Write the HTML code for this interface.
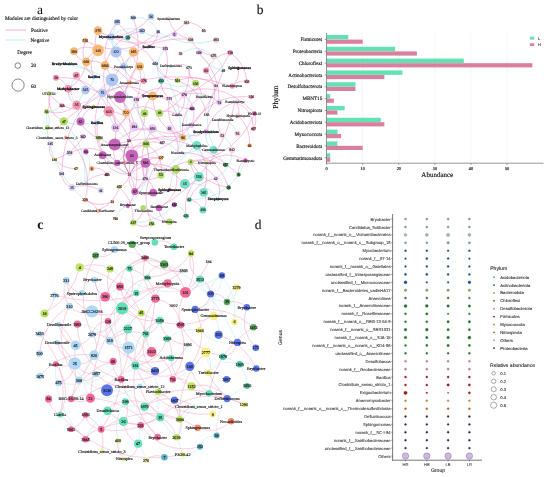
<!DOCTYPE html><html><head><meta charset="utf-8"><style>
html,body{margin:0;padding:0;background:#fff;width:550px;height:477px;overflow:hidden}
svg{display:block}
.tb text{stroke:#222;stroke-width:0.16px}
.td text{stroke:#444;stroke-width:0.1px}
text.n{stroke:#1a1a1a;stroke-width:0.16px}
text.l{stroke:#111;stroke-width:0.12px}
text.lg{stroke:#111;stroke-width:0.14px}
text.l[font-weight=bold]{stroke:#000;stroke-width:0.22px}
</style></head><body>
<svg width="550" height="477" viewBox="0 0 550 477" text-rendering="geometricPrecision">
<rect width="550" height="477" fill="#fff"/>
<g font-family="'Liberation Serif','Times New Roman',serif" stroke-linejoin="round">
<path d="M158.1 31.9Q150.99 15.44 133.2 17.7M117.2 22.1Q104.46 46.47 123.5 66.3M142 31.1Q124.71 23.99 111.1 36.8M142 31.1Q133.21 30.66 127.8 37.6M142 31.1Q157.39 41.22 174.5 34.4M158.1 31.9Q185.16 49.36 216 40.1M111.1 36.8Q117.36 51.68 133.5 52M116 52Q111.66 37.47 98.1 30.7M133.5 52Q119.43 65.63 129.2 82.6M165.3 48.5Q151.53 63.21 161 81M213.6 56.1Q198.11 42.03 180.6 53.5M177.7 152.3Q189.07 102.12 155.3 63.3M143.8 81Q146.22 72.45 139.8 66.3M94 77Q83.14 61.66 64.5 64M144.5 113.2Q114.88 71.73 64.5 64M76.3 75.2Q64.93 90.26 76.7 105M85.5 90Q93.06 85.66 94 77M112 79.8Q110.76 90.84 120 97M76.7 105Q99.78 100 112 79.8M112 79.8Q96.99 116.72 128.9 140.6M146.1 144Q142.67 104.67 112 79.8M85.5 90Q73.38 104.3 80.6 121.6M46.6 111.6Q55.68 112.03 61.9 105.4M63.8 121.4Q89.61 130.89 108.8 111.2M161 81Q177.75 91.18 195.7 83.3M195.7 83.3Q171.7 127.31 207 162.9M198.8 52.4Q206.84 67.17 223.3 70.6M223.3 70.6Q221.79 61.11 213.6 56.1M216 85.5Q194.81 128.3 225.5 164.9M237.4 133.6Q232.84 120.2 218.7 119.4M152.5 128.7Q178.25 149.18 206 131.5M206 131.5Q203.81 143.14 213.6 149.8M206 131.5Q185.13 132.76 177.7 152.3M232 150.1Q230.27 140.77 222.3 135.6M196.8 145.4Q172.69 160.9 169.6 189.4M213.6 149.8Q179.7 146.84 160.9 175.2M215.7 178.5Q232.34 169.17 232 150.1M189.3 199.7Q230.91 199.46 245.5 160.5M198.8 176.8Q189.47 175.69 184.9 183.9M218 199.2Q206.47 180.68 184.9 183.9M186.2 216.2Q183.73 206.85 174.3 204.7M47.5 127.8Q51.59 119.45 46.6 111.6M46.6 111.6Q44.37 165.19 85 200.2M84.6 183.4Q87.86 147.82 63.8 121.4M131.9 155.8Q126.26 145.54 114.6 144.5M127.8 206Q156.87 180.88 146.1 144M177.7 152.3Q172.54 143.34 162.2 143M84.6 183.4Q94.97 168 85.9 151.8M117.2 162.9Q111.53 155.96 102.6 155.2M117.2 162.9Q120.31 171.9 129.5 174.4M153.2 192.7Q162.39 195.99 169.6 189.4M127.8 206Q117.98 208.66 115.4 218.5M133.3 222.6Q157.8 222.81 174.3 204.7" fill="none" stroke="#9fe2ec" stroke-width="0.6" stroke-opacity="0.9"/>
<path d="M120 97Q148.26 60.96 133.2 17.7M111.1 36.8Q135.57 35.44 151 16.4M117.2 22.1Q135.17 46.38 165.3 48.5M117.2 22.1Q95.5 49.23 112 79.8M142 31.1Q112.78 36.77 105 65.5M148.6 47Q157.04 41.77 158.1 31.9M85.3 40.5Q124.71 61.7 158.1 31.9M155.3 63.3Q139.71 39.19 111.1 36.8M123.5 66.3Q124.59 56.61 116 52M133.5 52Q132.26 61.09 139.8 66.3M168.7 18.3Q172.59 36.16 190.6 39.3M98.1 30.7Q145.3 59.42 186.5 22.6M203.7 30.8Q197.11 22.48 186.5 22.6M152.6 95.8Q173.57 76.07 165.3 48.5M155.3 63.3Q160.32 79.75 177.5 80.5M189 67.2Q180.22 61.89 170.9 66.2M139.8 66.3Q130.31 71.72 129.2 82.6M115.5 127.6Q145.17 103.9 139.8 66.3M105 65.5Q96.57 58.99 86.3 61.8M129.2 82.6Q120.8 68.82 105 65.5M105 65.5Q97.77 97.02 126 112.8M123.5 66.3Q128.18 81.2 143.8 81M98.1 30.7Q92.4 40.55 98.1 50.4M85.3 40.5Q77.46 61.66 94 77M98.1 50.4Q85.8 43.32 74 51.2M74 51.2Q77.61 59.45 86.3 61.8M98.1 50.4Q89.28 53.08 86.3 61.8M98.1 50.4Q86.3 62.2 94 77M68.2 88.8Q83.61 79.56 86.3 61.8M76.3 75.2Q85.52 89.81 102.5 93M68.2 88.8Q64.76 80.32 56 77.7M108.8 111.2Q94.99 74.61 56 77.7M102.5 93Q112.16 89.94 112 79.8M112 79.8Q62.92 114.12 61.7 174M190.6 39.3Q138.55 34.81 112 79.8M129.2 82.6Q136.42 97.14 152.6 95.8M129.2 82.6Q121.13 97.01 126 112.8M68.2 88.8Q67.25 99.63 76.7 105M152.6 95.8Q128.41 78.98 102.5 93M134.2 126.7Q130.98 97.97 102.5 93M114.6 144.5Q121.04 115.81 102.5 93M102.5 93Q87.31 124.12 102.6 155.2M128.9 140.6Q134.37 116.78 120 97M169.3 98.5Q152.53 91.65 136.3 99.7M184 94.7Q158.25 79.1 136.3 99.7M136.3 99.7Q138.59 127.72 162.2 143M152.6 95.8Q144.6 102.66 144.5 113.2M177 114.8Q171.6 96.57 152.6 95.8M152.6 95.8Q154.25 126.56 183 137.6M49 93.6Q66.78 116.04 93.7 106.3M46.6 111.6Q51.66 103.11 49 93.6M49 93.6Q46.03 113.02 63.8 121.4M46.6 111.6Q63.37 116.15 76.7 105M93.7 106.3Q83.57 110.88 80.6 121.6M115.5 127.6Q115.88 117.88 108.8 111.2M134.2 126.7Q125.74 111.99 108.8 111.2M134.9 191.6Q144.64 144 108.8 111.2M159.5 113Q142.83 100.31 126 112.8M115.5 127.6Q125.97 123.9 126 112.8M128.9 140.6Q146.61 132.54 144.5 113.2M159.5 113Q191.61 101.28 189 67.2M177 114.8Q168.82 108.38 159.5 113M161 81Q160.97 91.73 169.3 98.5M216 85.5Q198.1 72.63 177.5 80.5M206.6 114.6Q201.86 89.18 177.5 80.5M189 67.2Q188.43 76.88 195.7 83.3M201.6 96.3Q201.62 88.45 195.7 83.3M206.6 114.6Q223.2 92.41 206.1 70.6M230.2 52.7Q213.08 54.83 206.1 70.6M117.2 162.9Q198.18 148.86 223.3 70.6M232.2 86.1Q240.52 78.43 238 67.4M246.9 81.5Q238.36 79.98 232.2 86.1M232.2 86.1Q137.95 55.79 63.8 121.4M246.9 81.5Q245.11 63.29 230.2 52.7M251.3 97.1Q212.77 92.71 191.6 125.2M169.3 98.5Q177.85 109.85 192 108.5M254.6 113.5Q217.72 73.19 169.3 98.5M169.3 98.5Q163.74 122.4 183 137.6M219.3 102.3Q203.64 89.28 184 94.7M177 114.8Q186.64 106.89 184 94.7M191.6 125.2Q199.31 107.08 184 94.7M184 94.7Q216.12 83.63 230.2 52.7M201.6 96.3Q178.92 110.92 183 137.6M219.3 102.3Q220 72.85 198.8 52.4M238.2 115.6Q240.83 107.76 234.9 102M253.4 129Q253.7 108.96 234.9 102M234.9 102Q212.92 109.38 206 131.5M158.9 207.9Q221.02 172.26 234.9 102M218.7 119.4Q216.68 128.35 222.3 135.6M249.6 145.4Q250.79 127.86 238.2 115.6M253.4 129Q257.69 121.54 254.6 113.5M190.6 162.1Q236.45 156.04 254.6 113.5M152.5 128.7Q173.21 139.96 191.6 125.2M134.2 126.7Q142.88 131.97 152.5 128.7M152.5 128.7Q129.35 126.54 114.6 144.5M152.5 128.7Q135.75 151.8 145 178.8M169.6 128.4Q186.76 142.17 206 131.5M177.7 152.3Q179.7 138.3 169.6 128.4M203.7 192.4Q212.47 167.11 196.8 145.4M245.5 160.5Q225.4 148.06 207 162.9M245.5 160.5Q236.93 165.11 238.6 174.7M215.7 178.5Q207.05 164.34 190.6 162.1M190.6 162.1Q190.84 171.6 198.8 176.8M190.6 162.1Q203.43 184.04 228.6 187.5M225.5 164.9Q190.18 151.11 160.9 175.2M238.6 174.7Q185.29 123.92 114.6 144.5M215.7 178.5Q196.28 181.35 189.3 199.7M218 199.2Q222.35 188.24 215.7 178.5M198.8 176.8Q181.9 193.11 186.2 216.2M184.9 183.9Q156.68 155.25 117.2 162.9M228.6 187.5Q216.26 150.94 177.7 152.3M202.9 210Q208.68 201.44 203.7 192.4M202.9 210Q198.67 201.45 189.3 199.7M80.6 121.6Q86.29 133.87 99.1 138.2M97 123Q95.09 160.18 129.5 174.4M47.5 127.8Q57.98 130.53 63.8 121.4M54.4 159.3Q73.63 154.04 83.1 136.5M85 200.2Q95.2 162.71 65.8 137.3M99.1 138.2Q121.03 153.8 146.1 144M114.6 144.5Q111.71 154.29 117.2 162.9M129.5 174.4Q132.16 154.41 114.6 144.5M128.9 140.6Q126.28 149.01 131.9 155.8M160.9 175.2Q164.59 154.34 146.1 144M134.9 191.6Q154.68 171.14 146.1 144M162.2 143Q142.09 137.66 131.9 155.8M102.6 155.2Q108.85 174.88 129.5 174.4M117.2 162.9Q126.85 164.12 131.9 155.8M160.9 175.2Q151.83 157.38 131.9 155.8M129.5 174.4Q137.57 165.99 131.9 155.8M117.2 162.9Q97.05 140.1 69.5 153M183 137.6Q142.6 130.73 117.2 162.9M160.9 158Q152 156.67 145.5 162.9M145.5 162.9Q133.84 163.56 129.5 174.4M145.5 162.9Q140.65 170.71 145 178.8M134.9 191.6Q150.93 181.21 145.5 162.9M160.9 158Q138.98 154.28 129.5 174.4M160.9 158Q136.69 188.14 151.6 223.8M175.8 169.5Q151.04 156.72 129.5 174.4M158.9 207.9Q181.38 194.87 175.8 169.5M145 178.8Q153.79 180.72 160.9 175.2M106.9 174.4Q101.35 166.13 91.7 168.6M106.9 174.4Q93.77 173.98 84.6 183.4M129.5 174.4Q135.63 182.29 145 178.8M119.3 187.1Q127.63 183.34 129.5 174.4M129.5 174.4Q127.3 184.54 134.9 191.6M127.8 206Q140.45 190.83 129.5 174.4M153.2 192.7Q153.87 182.93 145 178.8M100.8 190.5Q87.06 182.68 72 187.5M97.7 210.4Q114.25 204.08 119.3 187.1M133.3 222.6Q134.58 201.59 119.3 187.1M134.9 191.6Q143.71 197.73 153.2 192.7M134.9 191.6Q152.74 198.3 169.6 189.4M85 200.2Q98.23 207.73 112.3 201.9M133.3 222.6Q142.67 218.16 143.2 207.8M143.2 207.8Q152.56 221.79 169.4 221.8M158.9 207.9Q158.74 218.94 169.4 221.8M50.3 143.6Q47.14 152.81 54.4 159.3M54.4 159.3Q63.04 168.96 76 168.6M61.7 174Q62.29 184.23 72 187.5M97.7 210.4Q93.7 202.37 85 200.2M133.3 222.6Q142.02 229.82 151.6 223.8M190.6 39.3Q198.11 53.16 213.6 56.1" fill="none" stroke="#f27cc0" stroke-width="0.6" stroke-opacity="0.8"/>
<path d="M128.9 140.6Q118 158 129.5 174.4" fill="none" stroke="#c43a6a" stroke-width="0.7"/><circle cx="133.2" cy="17.7" r="2.46" fill="#b0c7f6"/><circle cx="151" cy="16.4" r="3.21" fill="#b0c7f6"/><circle cx="117.2" cy="22.1" r="3.21" fill="#b0c7f6"/><circle cx="142" cy="31.1" r="3" fill="#b0c7f6"/><circle cx="158.1" cy="31.9" r="2.14" fill="#b0c7f6"/><circle cx="111.1" cy="36.8" r="3.53" fill="#b0c7f6"/><circle cx="127.8" cy="37.6" r="2.68" fill="#3fb99b"/><circle cx="116" cy="52" r="5.56" fill="#b0c7f6"/><circle cx="133.5" cy="52" r="4.71" fill="#f9b872"/><circle cx="148.6" cy="47" r="1.5" fill="#b0c7f6"/><circle cx="174.5" cy="34.4" r="2.46" fill="#d9a6f2"/><circle cx="168.7" cy="18.3" r="2.14" fill="#ead8d4"/><circle cx="186.5" cy="22.6" r="2.68" fill="#ead8d4"/><circle cx="165.3" cy="48.5" r="2.57" fill="#e6b8f4"/><circle cx="180.6" cy="53.5" r="2.25" fill="#f0d6da"/><circle cx="155.3" cy="63.3" r="2.14" fill="#b0c7f6"/><circle cx="170.9" cy="66.2" r="1.93" fill="#c8f0f0"/><circle cx="139.8" cy="66.3" r="4.17" fill="#f9b872"/><circle cx="105" cy="65.5" r="4.39" fill="#f9b872"/><circle cx="123.5" cy="66.3" r="3.21" fill="#b0c7f6"/><circle cx="98.1" cy="30.7" r="4.39" fill="#f9b872"/><circle cx="85.3" cy="40.5" r="2.68" fill="#f9b872"/><circle cx="74" cy="51.2" r="3.85" fill="#f9b872"/><circle cx="98.1" cy="50.4" r="5.78" fill="#f9b872"/><circle cx="86.3" cy="61.8" r="4.39" fill="#f9b872"/><circle cx="64.5" cy="64" r="1.71" fill="#b0c7f6"/><circle cx="76.3" cy="75.2" r="3.53" fill="#f590ae"/><circle cx="56" cy="77.7" r="3" fill="#f590ae"/><circle cx="94" cy="77" r="2.14" fill="#b0c7f6"/><circle cx="112" cy="79.8" r="6.42" fill="#b0c7f6"/><circle cx="129.2" cy="82.6" r="2.14" fill="#f9b872"/><circle cx="143.8" cy="81" r="3" fill="#f590ae"/><circle cx="68.2" cy="88.8" r="3.85" fill="#f590ae"/><circle cx="85.5" cy="90" r="4.39" fill="#b0c7f6"/><circle cx="102.5" cy="93" r="4.17" fill="#b0c7f6"/><circle cx="120" cy="97" r="5.99" fill="#c564b9"/><circle cx="136.3" cy="99.7" r="3.1" fill="#ebc4f5"/><circle cx="152.6" cy="95.8" r="4.39" fill="#f9b872"/><circle cx="49" cy="93.6" r="2.25" fill="#b1dc69"/><circle cx="61.9" cy="105.4" r="2.25" fill="#f590ae"/><circle cx="76.7" cy="105" r="4.39" fill="#f590ae"/><circle cx="93.7" cy="106.3" r="1.71" fill="#b1dc69"/><circle cx="108.8" cy="111.2" r="5.24" fill="#f590ae"/><circle cx="126" cy="112.8" r="3.85" fill="#f9b872"/><circle cx="144.5" cy="113.2" r="3.85" fill="#b1dc69"/><circle cx="159.5" cy="113" r="3.85" fill="#b1dc69"/><circle cx="161" cy="81" r="2.68" fill="#3fb99b"/><circle cx="177.5" cy="80.5" r="2.68" fill="#b1dc69"/><circle cx="195.7" cy="83.3" r="3.53" fill="#b1dc69"/><circle cx="189" cy="67.2" r="1.93" fill="#c8f0f0"/><circle cx="206.1" cy="70.6" r="3.1" fill="#f590ae"/><circle cx="223.3" cy="70.6" r="1.93" fill="#a8e8e0"/><circle cx="238" cy="67.4" r="1.5" fill="#f590ae"/><circle cx="216" cy="85.5" r="2.14" fill="#f8d4dc"/><circle cx="232.2" cy="86.1" r="2.68" fill="#f590ae"/><circle cx="246.9" cy="81.5" r="2.14" fill="#f590ae"/><circle cx="251.3" cy="97.1" r="2.14" fill="#f590ae"/><circle cx="169.3" cy="98.5" r="1.93" fill="#ebc4f5"/><circle cx="184" cy="94.7" r="3.1" fill="#ebc4f5"/><circle cx="201.6" cy="96.3" r="2.35" fill="#c8f0f0"/><circle cx="219.3" cy="102.3" r="3.1" fill="#ebc4f5"/><circle cx="234.9" cy="102" r="1.6" fill="#ebc4f5"/><circle cx="192" cy="108.5" r="2.14" fill="#b46ad0"/><circle cx="177" cy="114.8" r="2.14" fill="#ebc4f5"/><circle cx="206.6" cy="114.6" r="1.93" fill="#ead8d4"/><circle cx="218.7" cy="119.4" r="0.86" fill="#f8d4dc"/><circle cx="238.2" cy="115.6" r="2.68" fill="#f8d4dc"/><circle cx="254.6" cy="113.5" r="2.14" fill="#d24d9a"/><circle cx="253.4" cy="129" r="2.14" fill="#f590ae"/><circle cx="152.5" cy="128.7" r="4.39" fill="#ebc4f5"/><circle cx="169.6" cy="128.4" r="3.1" fill="#ebc4f5"/><circle cx="191.6" cy="125.2" r="2.68" fill="#ebc4f5"/><circle cx="206" cy="131.5" r="2.68" fill="#ebc4f5"/><circle cx="222.3" cy="135.6" r="3.1" fill="#f8d4dc"/><circle cx="237.4" cy="133.6" r="3.1" fill="#f8d4dc"/><circle cx="249.6" cy="145.4" r="2.14" fill="#f9b872"/><circle cx="196.8" cy="145.4" r="4.39" fill="#76ddc5"/><circle cx="213.6" cy="149.8" r="3.85" fill="#76ddc5"/><circle cx="232" cy="150.1" r="3.1" fill="#f8d4dc"/><circle cx="245.5" cy="160.5" r="2.14" fill="#d24d9a"/><circle cx="190.6" cy="162.1" r="3.1" fill="#b1dc69"/><circle cx="207" cy="162.9" r="1.6" fill="#b1dc69"/><circle cx="225.5" cy="164.9" r="2.25" fill="#3f9050"/><circle cx="238.6" cy="174.7" r="2.14" fill="#3f9050"/><circle cx="215.7" cy="178.5" r="2.14" fill="#ebc4f5"/><circle cx="198.8" cy="176.8" r="4.92" fill="#76ddc5"/><circle cx="184.9" cy="183.9" r="4.92" fill="#76ddc5"/><circle cx="228.6" cy="187.5" r="2.25" fill="#3f9050"/><circle cx="203.7" cy="192.4" r="4.39" fill="#76ddc5"/><circle cx="189.3" cy="199.7" r="2.46" fill="#5cc9ad"/><circle cx="218" cy="199.2" r="1.6" fill="#76ddc5"/><circle cx="202.9" cy="210" r="3.53" fill="#76ddc5"/><circle cx="186.2" cy="216.2" r="2.46" fill="#5cc9ad"/><circle cx="80.6" cy="121.6" r="4.07" fill="#c564b9"/><circle cx="97" cy="123" r="2.14" fill="#b0c7f6"/><circle cx="115.5" cy="127.6" r="4.39" fill="#ebc4f5"/><circle cx="134.2" cy="126.7" r="4.39" fill="#ebc4f5"/><circle cx="46.6" cy="111.6" r="2.68" fill="#b1dc69"/><circle cx="63.8" cy="121.4" r="4.17" fill="#b1dc69"/><circle cx="47.5" cy="127.8" r="2.46" fill="#b1dc69"/><circle cx="83.1" cy="136.5" r="2.57" fill="#dcaee8"/><circle cx="65.8" cy="137.3" r="1.71" fill="#f5a97a"/><circle cx="99.1" cy="138.2" r="2.46" fill="#b1dc69"/><circle cx="114.6" cy="144.5" r="6.1" fill="#c564b9"/><circle cx="128.9" cy="140.6" r="1.07" fill="#f590ae"/><circle cx="146.1" cy="144" r="3.85" fill="#b1dc69"/><circle cx="162.2" cy="143" r="1.93" fill="#ebc4f5"/><circle cx="85.9" cy="151.8" r="2.68" fill="#c564b9"/><circle cx="102.6" cy="155.2" r="3.85" fill="#c564b9"/><circle cx="131.9" cy="155.8" r="6.42" fill="#c564b9"/><circle cx="117.2" cy="162.9" r="3.21" fill="#c564b9"/><circle cx="145.5" cy="162.9" r="4.92" fill="#c564b9"/><circle cx="160.9" cy="158" r="2.46" fill="#f9b872"/><circle cx="177.7" cy="152.3" r="0.86" fill="#ebc4f5"/><circle cx="175.8" cy="169.5" r="4.39" fill="#b1dc69"/><circle cx="160.9" cy="175.2" r="3.53" fill="#b1dc69"/><circle cx="106.9" cy="174.4" r="1.93" fill="#d0607a"/><circle cx="129.5" cy="174.4" r="1.07" fill="#ebc4f5"/><circle cx="145" cy="178.8" r="2.46" fill="#ebc4f5"/><circle cx="100.8" cy="190.5" r="3.1" fill="#ddd5f8"/><circle cx="119.3" cy="187.1" r="2.14" fill="#b1dc69"/><circle cx="134.9" cy="191.6" r="3.53" fill="#c564b9"/><circle cx="153.2" cy="192.7" r="3.85" fill="#c564b9"/><circle cx="169.6" cy="189.4" r="1.6" fill="#c564b9"/><circle cx="112.3" cy="201.9" r="1.71" fill="#f5a97a"/><circle cx="127.8" cy="206" r="2.14" fill="#c564b9"/><circle cx="143.2" cy="207.8" r="2.78" fill="#b1dc69"/><circle cx="158.9" cy="207.9" r="3.21" fill="#c564b9"/><circle cx="174.3" cy="204.7" r="2.46" fill="#a0409a"/><circle cx="50.3" cy="143.6" r="2.68" fill="#ddd5f8"/><circle cx="69.5" cy="153" r="3.1" fill="#ddd5f8"/><circle cx="54.4" cy="159.3" r="1.71" fill="#e2e46a"/><circle cx="76" cy="168.6" r="1.71" fill="#e2e46a"/><circle cx="91.7" cy="168.6" r="2.68" fill="#f5a97a"/><circle cx="61.7" cy="174" r="2.68" fill="#ddd5f8"/><circle cx="84.6" cy="183.4" r="1.6" fill="#c8f0f0"/><circle cx="72" cy="187.5" r="3.53" fill="#ddd5f8"/><circle cx="85" cy="200.2" r="2.14" fill="#f5a97a"/><circle cx="97.7" cy="210.4" r="1.6" fill="#f5a97a"/><circle cx="115.4" cy="218.5" r="1.6" fill="#f5a97a"/><circle cx="133.3" cy="222.6" r="3.21" fill="#b1dc69"/><circle cx="151.6" cy="223.8" r="2.68" fill="#b1dc69"/><circle cx="169.4" cy="221.8" r="3.21" fill="#b1dc69"/><circle cx="198.8" cy="52.4" r="2.46" fill="#ebc4f5"/><circle cx="190.6" cy="39.3" r="3.1" fill="#ead8d4"/><circle cx="203.7" cy="30.8" r="2.14" fill="#ead8d4"/><circle cx="216" cy="40.1" r="3.1" fill="#ead8d4"/><circle cx="213.6" cy="56.1" r="3.1" fill="#ead8d4"/><circle cx="230.2" cy="52.7" r="2.68" fill="#f590ae"/><circle cx="183" cy="137.6" r="3.21" fill="#f9b872"/>
<text class="n" x="133.2" y="18.99" font-size="3.7" fill="#1a1a1a" text-anchor="middle">368</text><text class="n" x="151" y="17.7" font-size="3.7" fill="#1a1a1a" text-anchor="middle">36</text><text class="n" x="117.2" y="23.4" font-size="3.7" fill="#1a1a1a" text-anchor="middle">205</text><text class="n" x="142" y="32.4" font-size="3.7" fill="#1a1a1a" text-anchor="middle">262</text><text class="n" x="158.1" y="33.2" font-size="3.7" fill="#1a1a1a" text-anchor="middle">16</text><text class="l" x="111.1" y="38.06" font-size="3.6" fill="#111" text-anchor="middle" font-weight="bold">Myxobacterium</text><text class="n" x="127.8" y="38.9" font-size="3.7" fill="#1a1a1a" text-anchor="middle">20</text><text class="n" x="116" y="53.3" font-size="3.7" fill="#1a1a1a" text-anchor="middle">122</text><text class="n" x="133.5" y="53.3" font-size="3.7" fill="#1a1a1a" text-anchor="middle">195</text><text class="l" x="148.6" y="48.26" font-size="3.6" fill="#111" text-anchor="middle" font-weight="bold">Bacillus</text><text class="n" x="174.5" y="35.7" font-size="3.7" fill="#1a1a1a" text-anchor="middle">5</text><text class="l" x="168.7" y="19.56" font-size="3.6" fill="#111" text-anchor="middle">Sporobacterium</text><text class="n" x="186.5" y="23.9" font-size="3.7" fill="#1a1a1a" text-anchor="middle">382</text><text class="n" x="165.3" y="49.8" font-size="3.7" fill="#1a1a1a" text-anchor="middle">273</text><text class="n" x="180.6" y="54.8" font-size="3.7" fill="#1a1a1a" text-anchor="middle">32</text><text class="n" x="155.3" y="64.59" font-size="3.7" fill="#1a1a1a" text-anchor="middle">604</text><text class="l" x="170.9" y="67.46" font-size="3.6" fill="#111" text-anchor="middle">Defluviicoccus</text><text class="n" x="139.8" y="67.59" font-size="3.7" fill="#1a1a1a" text-anchor="middle">631</text><text class="n" x="105" y="66.8" font-size="3.7" fill="#1a1a1a" text-anchor="middle">1066</text><text class="l" x="123.5" y="67.56" font-size="3.6" fill="#111" text-anchor="middle">Pseudolabrys</text><text class="n" x="98.1" y="31.99" font-size="3.7" fill="#1a1a1a" text-anchor="middle">275</text><text class="n" x="85.3" y="41.8" font-size="3.7" fill="#1a1a1a" text-anchor="middle">576</text><text class="n" x="74" y="52.5" font-size="3.7" fill="#1a1a1a" text-anchor="middle">398</text><text class="n" x="98.1" y="51.7" font-size="3.7" fill="#1a1a1a" text-anchor="middle">143</text><text class="n" x="86.3" y="63.09" font-size="3.7" fill="#1a1a1a" text-anchor="middle">668</text><text class="l" x="64.5" y="65.26" font-size="3.6" fill="#111" text-anchor="middle" font-weight="bold">Bradyrhizobium</text><text class="n" x="76.3" y="76.5" font-size="3.7" fill="#1a1a1a" text-anchor="middle">87</text><text class="n" x="56" y="79" font-size="3.7" fill="#1a1a1a" text-anchor="middle">28</text><text class="l" x="94" y="78.26" font-size="3.6" fill="#111" text-anchor="middle" font-weight="bold">Bacillus</text><text class="n" x="112" y="81.09" font-size="3.7" fill="#1a1a1a" text-anchor="middle">73</text><text class="l" x="129.2" y="83.86" font-size="3.6" fill="#111" text-anchor="middle">Anaerolineae</text><text class="n" x="143.8" y="82.3" font-size="3.7" fill="#1a1a1a" text-anchor="middle">276</text><text class="l" x="68.2" y="90.06" font-size="3.6" fill="#111" text-anchor="middle" font-weight="bold">Methylobacter</text><text class="n" x="85.5" y="91.3" font-size="3.7" fill="#1a1a1a" text-anchor="middle">315</text><text class="n" x="102.5" y="94.3" font-size="3.7" fill="#1a1a1a" text-anchor="middle">72</text><text class="l" x="120" y="98.26" font-size="3.6" fill="#111" text-anchor="middle">Hyphomicrobium</text><text class="n" x="136.3" y="101" font-size="3.7" fill="#1a1a1a" text-anchor="middle">178</text><text class="l" x="152.6" y="97.06" font-size="3.6" fill="#111" text-anchor="middle" font-weight="bold">Streptomyces</text><text class="l" x="49" y="94.86" font-size="3.6" fill="#111" text-anchor="middle">UTCFX1</text><text class="n" x="61.9" y="106.7" font-size="3.7" fill="#1a1a1a" text-anchor="middle">368</text><text class="n" x="76.7" y="106.3" font-size="3.7" fill="#1a1a1a" text-anchor="middle">35</text><text class="l" x="93.7" y="107.56" font-size="3.6" fill="#111" text-anchor="middle" font-weight="bold">Sphingomonas</text><text class="n" x="108.8" y="112.5" font-size="3.7" fill="#1a1a1a" text-anchor="middle">613</text><text class="n" x="126" y="114.09" font-size="3.7" fill="#1a1a1a" text-anchor="middle">722</text><text class="n" x="144.5" y="114.5" font-size="3.7" fill="#1a1a1a" text-anchor="middle">48</text><text class="n" x="159.5" y="114.3" font-size="3.7" fill="#1a1a1a" text-anchor="middle">48</text><text class="n" x="161" y="82.3" font-size="3.7" fill="#1a1a1a" text-anchor="middle">433</text><text class="n" x="177.5" y="81.8" font-size="3.7" fill="#1a1a1a" text-anchor="middle">591</text><text class="n" x="195.7" y="84.59" font-size="3.7" fill="#1a1a1a" text-anchor="middle">136</text><text class="n" x="189" y="68.5" font-size="3.7" fill="#1a1a1a" text-anchor="middle">673</text><text class="n" x="206.1" y="71.89" font-size="3.7" fill="#1a1a1a" text-anchor="middle">83</text><text class="n" x="223.3" y="71.89" font-size="3.7" fill="#1a1a1a" text-anchor="middle">49</text><text class="l" x="239.5" y="68.66" font-size="3.6" fill="#111" text-anchor="middle" font-weight="bold">Sphingomonas</text><text class="n" x="216" y="86.8" font-size="3.7" fill="#1a1a1a" text-anchor="middle">84</text><text class="l" x="232.2" y="87.36" font-size="3.6" fill="#111" text-anchor="middle">Planctomyces</text><text class="n" x="246.9" y="82.8" font-size="3.7" fill="#1a1a1a" text-anchor="middle">332</text><text class="n" x="251.3" y="98.39" font-size="3.7" fill="#1a1a1a" text-anchor="middle">226</text><text class="n" x="169.3" y="99.8" font-size="3.7" fill="#1a1a1a" text-anchor="middle">571</text><text class="n" x="184" y="96" font-size="3.7" fill="#1a1a1a" text-anchor="middle">176</text><text class="l" x="204.2" y="97.56" font-size="3.6" fill="#111" text-anchor="middle">Roseiflexus</text><text class="n" x="219.3" y="103.59" font-size="3.7" fill="#1a1a1a" text-anchor="middle">74</text><text class="l" x="234.9" y="103.26" font-size="3.6" fill="#111" text-anchor="middle">Pseudolabrys</text><text class="n" x="192" y="109.8" font-size="3.7" fill="#1a1a1a" text-anchor="middle">486</text><text class="l" x="177" y="116.06" font-size="3.6" fill="#111" text-anchor="middle">Gaiella</text><text class="n" x="206.6" y="115.89" font-size="3.7" fill="#1a1a1a" text-anchor="middle">183</text><text class="l" x="222.6" y="120.66" font-size="3.6" fill="#111" text-anchor="middle">Desulfomonile</text><text class="l" x="238.2" y="116.86" font-size="3.6" fill="#111" text-anchor="middle">Hydrogenispora</text><text class="l" x="254.6" y="114.76" font-size="3.6" fill="#111" text-anchor="middle">P3OB-42</text><text class="n" x="253.4" y="130.29" font-size="3.7" fill="#1a1a1a" text-anchor="middle">467</text><text class="n" x="152.5" y="129.99" font-size="3.7" fill="#1a1a1a" text-anchor="middle">876</text><text class="n" x="169.6" y="129.69" font-size="3.7" fill="#1a1a1a" text-anchor="middle">92</text><text class="l" x="191.6" y="126.46" font-size="3.6" fill="#111" text-anchor="middle">Desulfobacca</text><text class="l" x="206" y="132.76" font-size="3.6" fill="#111" text-anchor="middle" font-weight="bold">Bradyrhizobium</text><text class="n" x="222.3" y="136.89" font-size="3.7" fill="#1a1a1a" text-anchor="middle">53</text><text class="n" x="237.4" y="134.89" font-size="3.7" fill="#1a1a1a" text-anchor="middle">76</text><text class="n" x="249.6" y="146.69" font-size="3.7" fill="#1a1a1a" text-anchor="middle">66</text><text class="l" x="196.8" y="146.66" font-size="3.6" fill="#111" text-anchor="middle">Methylophilus</text><text class="l" x="213.6" y="151.06" font-size="3.6" fill="#111" text-anchor="middle">Gemmatimonas</text><text class="n" x="232" y="151.39" font-size="3.7" fill="#1a1a1a" text-anchor="middle">942</text><text class="l" x="245.5" y="161.76" font-size="3.6" fill="#111" text-anchor="middle">Nannocystis</text><text class="n" x="190.6" y="163.39" font-size="3.7" fill="#1a1a1a" text-anchor="middle">4</text><text class="l" x="207" y="164.16" font-size="3.6" fill="#111" text-anchor="middle">Nitrosospira</text><text class="n" x="225.5" y="166.19" font-size="3.7" fill="#1a1a1a" text-anchor="middle">157</text><text class="n" x="238.6" y="175.99" font-size="3.7" fill="#1a1a1a" text-anchor="middle">8</text><text class="n" x="215.7" y="179.79" font-size="3.7" fill="#1a1a1a" text-anchor="middle">42</text><text class="n" x="198.8" y="178.09" font-size="3.7" fill="#1a1a1a" text-anchor="middle">556</text><text class="n" x="184.9" y="185.19" font-size="3.7" fill="#1a1a1a" text-anchor="middle">15</text><text class="n" x="228.6" y="188.79" font-size="3.7" fill="#1a1a1a" text-anchor="middle">26</text><text class="n" x="203.7" y="193.69" font-size="3.7" fill="#1a1a1a" text-anchor="middle">265</text><text class="n" x="189.3" y="200.99" font-size="3.7" fill="#1a1a1a" text-anchor="middle">62</text><text class="l" x="218" y="200.46" font-size="3.6" fill="#111" text-anchor="middle" font-weight="bold">Streptomyces</text><text class="n" x="202.9" y="211.29" font-size="3.7" fill="#1a1a1a" text-anchor="middle">436</text><text class="n" x="186.2" y="217.49" font-size="3.7" fill="#1a1a1a" text-anchor="middle">621</text><text class="n" x="80.6" y="122.89" font-size="3.7" fill="#1a1a1a" text-anchor="middle">62</text><text class="l" x="97" y="124.26" font-size="3.6" fill="#111" text-anchor="middle" font-weight="bold">Bacillus</text><text class="n" x="115.5" y="128.89" font-size="3.7" fill="#1a1a1a" text-anchor="middle">126</text><text class="n" x="134.2" y="128" font-size="3.7" fill="#1a1a1a" text-anchor="middle">194</text><text class="n" x="46.6" y="112.89" font-size="3.7" fill="#1a1a1a" text-anchor="middle">36</text><text class="n" x="63.8" y="122.7" font-size="3.7" fill="#1a1a1a" text-anchor="middle">47</text><text class="l" x="47.5" y="129.06" font-size="3.6" fill="#111" text-anchor="middle">Clostridium_sensu_stricto_13</text><text class="n" x="83.1" y="137.79" font-size="3.7" fill="#1a1a1a" text-anchor="middle">362</text><text class="l" x="56.9" y="138.56" font-size="3.6" fill="#111" text-anchor="middle">Clostridium_sensu_stricto_3</text><text class="n" x="99.1" y="139.49" font-size="3.7" fill="#1a1a1a" text-anchor="middle">3096</text><text class="l" x="114.6" y="145.76" font-size="3.6" fill="#111" text-anchor="middle">Anaeromyxobacter</text><text class="n" x="128.9" y="141.89" font-size="3.7" fill="#1a1a1a" text-anchor="middle">58</text><text class="n" x="146.1" y="145.29" font-size="3.7" fill="#1a1a1a" text-anchor="middle">866</text><text class="n" x="162.2" y="144.29" font-size="3.7" fill="#1a1a1a" text-anchor="middle">467</text><text class="n" x="85.9" y="153.09" font-size="3.7" fill="#1a1a1a" text-anchor="middle">86</text><text class="l" x="102.6" y="156.46" font-size="3.6" fill="#111" text-anchor="middle">Acidibacter</text><text class="n" x="131.9" y="157.09" font-size="3.7" fill="#1a1a1a" text-anchor="middle">61</text><text class="l" x="117.2" y="164.16" font-size="3.6" fill="#111" text-anchor="middle">Clostridium_sensu_stricto_5</text><text class="n" x="145.5" y="164.19" font-size="3.7" fill="#1a1a1a" text-anchor="middle">586</text><text class="n" x="160.9" y="159.29" font-size="3.7" fill="#1a1a1a" text-anchor="middle">127</text><text class="l" x="177.7" y="153.56" font-size="3.6" fill="#111" text-anchor="middle">Nocardia</text><text class="l" x="171.2" y="170.56" font-size="3.6" fill="#111" text-anchor="middle">Thermodesulfovibrionia</text><text class="n" x="160.9" y="176.49" font-size="3.7" fill="#1a1a1a" text-anchor="middle">53</text><text class="n" x="106.9" y="175.69" font-size="3.7" fill="#1a1a1a" text-anchor="middle">463</text><text class="n" x="129.5" y="175.69" font-size="3.7" fill="#1a1a1a" text-anchor="middle">22</text><text class="n" x="145" y="180.09" font-size="3.7" fill="#1a1a1a" text-anchor="middle">178</text><text class="n" x="100.8" y="191.79" font-size="3.7" fill="#1a1a1a" text-anchor="middle">41</text><text class="n" x="119.3" y="188.39" font-size="3.7" fill="#1a1a1a" text-anchor="middle">405</text><text class="n" x="134.9" y="192.89" font-size="3.7" fill="#1a1a1a" text-anchor="middle">97</text><text class="l" x="150.8" y="193.96" font-size="3.6" fill="#111" text-anchor="middle">Syntrophobacter</text><text class="l" x="169.6" y="190.66" font-size="3.6" fill="#111" text-anchor="middle" font-weight="bold">Sphingomonas</text><text class="n" x="112.3" y="203.19" font-size="3.7" fill="#1a1a1a" text-anchor="middle">21</text><text class="l" x="127.7" y="205.76" font-size="3.6" fill="#111" text-anchor="middle">Bryobacter</text><text class="l" x="143.6" y="212.16" font-size="3.6" fill="#111" text-anchor="middle">Thiobacillus</text><text class="l" x="159.2" y="207.76" font-size="3.6" fill="#111" text-anchor="middle">Ramlibacter</text><text class="n" x="174.3" y="205.99" font-size="3.7" fill="#1a1a1a" text-anchor="middle">436</text><text class="n" x="50.3" y="144.89" font-size="3.7" fill="#1a1a1a" text-anchor="middle">245</text><text class="n" x="69.5" y="154.29" font-size="3.7" fill="#1a1a1a" text-anchor="middle">258</text><text class="n" x="54.4" y="160.59" font-size="3.7" fill="#1a1a1a" text-anchor="middle">148</text><text class="n" x="76" y="169.89" font-size="3.7" fill="#1a1a1a" text-anchor="middle">67</text><text class="n" x="91.7" y="169.89" font-size="3.7" fill="#1a1a1a" text-anchor="middle">8</text><text class="n" x="61.7" y="175.29" font-size="3.7" fill="#1a1a1a" text-anchor="middle">341</text><text class="l" x="86.9" y="184.66" font-size="3.6" fill="#111" text-anchor="middle">Defluviicoccus</text><text class="n" x="72" y="188.79" font-size="3.7" fill="#1a1a1a" text-anchor="middle">25</text><text class="n" x="85" y="201.49" font-size="3.7" fill="#1a1a1a" text-anchor="middle">229</text><text class="l" x="97.7" y="211.66" font-size="3.6" fill="#111" text-anchor="middle">Candidatus_Koribacter</text><text class="n" x="115.4" y="219.79" font-size="3.7" fill="#1a1a1a" text-anchor="middle">718</text><text class="n" x="133.3" y="223.89" font-size="3.7" fill="#1a1a1a" text-anchor="middle">437</text><text class="n" x="151.6" y="225.09" font-size="3.7" fill="#1a1a1a" text-anchor="middle">256</text><text class="l" x="169.4" y="223.06" font-size="3.6" fill="#111" text-anchor="middle">Nitrospira</text><text class="n" x="198.8" y="53.7" font-size="3.7" fill="#1a1a1a" text-anchor="middle">108</text><text class="n" x="190.6" y="40.59" font-size="3.7" fill="#1a1a1a" text-anchor="middle">404</text><text class="n" x="203.7" y="32.09" font-size="3.7" fill="#1a1a1a" text-anchor="middle">93</text><text class="n" x="216" y="41.4" font-size="3.7" fill="#1a1a1a" text-anchor="middle">493</text><text class="n" x="213.6" y="57.4" font-size="3.7" fill="#1a1a1a" text-anchor="middle">675</text><text class="n" x="230.2" y="54" font-size="3.7" fill="#1a1a1a" text-anchor="middle">718</text><text class="n" x="183" y="138.89" font-size="3.7" fill="#1a1a1a" text-anchor="middle">96</text>
<text x="40.1" y="13.5" font-size="13.5" fill="#111" text-anchor="middle">a</text>
<text x="4.9" y="20.2" font-size="5.2" fill="#111" class="lg">Modules are distinguished by color</text>
<line x1="5.7" y1="30" x2="26.2" y2="30" stroke="#f48cc6" stroke-width="0.7"/><text x="31.1" y="31.7" font-size="5.2" fill="#111" class="lg">Positive</text>
<line x1="5.7" y1="40" x2="26.2" y2="40" stroke="#a0e2ee" stroke-width="0.7"/><text x="30.6" y="41.8" font-size="5.2" fill="#111" class="lg">Negative</text>
<text x="17.2" y="53.8" font-size="5.2" fill="#111" class="lg">Degree</text>
<circle cx="17.8" cy="65.6" r="2.8" fill="none" stroke="#222" stroke-width="0.55"/><text x="31" y="67.4" font-size="5.2" fill="#111" class="lg">20</text>
<circle cx="18.1" cy="85.1" r="6.1" fill="none" stroke="#222" stroke-width="0.55"/><text x="31" y="87.6" font-size="5.2" fill="#111" class="lg">60</text>
</g>
<g font-family="'Liberation Serif','Times New Roman',serif">
<path d="M110.1 268.9Q163.71 310.92 221.9 275.5M136.3 293.1Q119.34 283.07 105.2 296.8M145 257.8Q142.62 247.26 132.2 244.4M237.4 342.4Q202.74 260.42 114.4 249.6M147.5 277.6Q138.32 282.76 136.3 293.1M120 286.6Q103.12 330.89 135.4 365.6M221.9 275.5Q210.37 281.16 210.6 294M195.1 309.4Q220.25 301.74 221.9 275.5M234.4 322Q238.06 296.08 221.9 275.5M200 279.2Q204.71 301.01 227 302M213.6 316Q217.55 293.63 200 279.2M236.5 287.5Q228.62 292.7 227 302M213.6 316Q235.35 310.03 236.5 287.5M213.6 316Q201.69 318.26 199.6 330.2M218.6 334.8Q220.27 324.29 213.6 316M199.6 330.2Q215.2 346.52 237.4 342.4M199.6 330.2Q181.37 327.16 167.1 338.9M208.6 372.9Q213.95 361.72 205.9 352.3M205.9 352.3Q207.39 372.61 226.6 379.4M247.1 386Q246.04 362.23 222.9 356.7M256.3 368.5Q249.56 360.32 239.7 364.2M239.7 364.2Q220.99 357.26 208.6 372.9M172.8 379.4Q184.33 376.86 189.8 366.4M109.8 340.8Q97.59 324.59 77.3 324.1M108 321.2Q119.24 357.67 155 371M94 355.2Q75.5 375.3 90.4 398.2M55.7 364.1Q53.17 408.61 85.6 439.2M74.8 363.5Q81.91 387.69 107 390.2M127.8 329Q132.57 316.59 122.1 308.4M127.8 329Q142.27 354.31 171.2 358M58.5 383Q106.72 391.5 128.6 347.7M155 371Q123.75 362.47 107 390.2M90.4 398.2Q129.41 400.54 155 371M155 371Q154.28 392.59 174.5 400.2M144.5 406.7Q129.44 390.07 107 390.2M144.5 406.7Q102.8 400.75 85.6 439.2M158.1 392Q154.35 419.82 176.4 437.2M179.8 419.4Q182.29 408.38 174.5 400.2M125.4 401.8Q111.8 419.55 118.1 441M144.5 406.7Q148.25 418.07 160.2 417.4M144.5 406.7Q133.28 433.74 146 460.1M164.4 457.3Q185.94 464.73 200 446.8M209.1 393.3Q221.98 391.55 226.6 379.4M247.1 386Q214.62 400.06 216.6 435.4M243.8 404.3Q236.86 397.31 227.1 398.6M194.7 406.7Q170.42 426.07 182.7 454.6M216.6 435.4Q204.02 434.87 200 446.8" fill="none" stroke="#bfe9f0" stroke-width="0.55" stroke-opacity="0.95"/>
<path d="M95.6 255.5Q107.23 259.65 114.4 249.6M95.6 255.5Q73.07 293.95 92 334.3M110.1 268.9Q95.25 261.48 79.7 267.3M44.5 313.5Q72.05 297.98 79.7 267.3M141.2 313Q121.81 274.86 79.7 267.3M110.1 268.9Q101.13 293.2 122.1 308.4M66.2 280.4Q70.88 290.67 81.9 293.1M66.2 280.4Q60.29 294.18 69.4 306.1M66.2 280.4Q69.03 304.28 92 311.4M94.5 280Q95.38 291.24 105.2 296.8M78.9 380.1Q114.03 334.31 94.5 280M54.4 295.1Q124.76 313.82 183.5 270.8M44.5 313.5Q53.45 306.45 54.4 295.1M145 257.8Q115.78 267.79 105.2 296.8M174 246.8Q165.97 237.74 154.8 242.4M132.2 244.4Q149.31 274.2 183.5 270.8M145 257.8Q121.37 262.53 120 286.6M185.4 292.4Q176.43 261.98 145 257.8M145 257.8Q138.51 281.22 155.4 298.7M164.2 264.3Q145.43 254.97 129.5 268.6M164.2 264.3Q171.64 274.1 183.5 270.8M164.2 264.3Q151.26 265.18 147.5 277.6M155.4 298.7Q152.84 274.71 129.5 268.6M122.1 308.4Q139.08 290.97 129.5 268.6M147.5 277.6Q175.29 276.29 191.1 253.4M147.5 277.6Q123.99 284.09 122.1 308.4M167.6 283.3Q157.07 287.49 155.4 298.7M167.6 283.3Q93.66 317.01 90.4 398.2M120 286.6Q124.01 305.09 141.2 313M185.4 292.4Q160.69 281.2 136.3 293.1M185.4 292.4Q198.62 274.42 191.1 253.4M185.4 292.4Q196.86 290.4 200 279.2M185.4 292.4Q175.91 307.64 180.5 325M136.3 293.1Q116.07 301.03 108 321.2M136.3 293.1Q124.83 296.69 122.1 308.4M180.5 325Q177.83 302.42 155.4 298.7M155.4 298.7Q135.81 324.09 151.6 352M71.1 399Q149.4 379.23 155.4 298.7M191.1 253.4Q185.96 269.61 200 279.2M210.6 294Q210.13 283.14 200 279.2M227 302Q221.66 292.13 210.6 294M195.1 309.4Q208.41 307.29 210.6 294M246.8 307.3Q238.18 299.88 227 302M246.8 307.3Q238.4 330.33 255.7 347.7M253.4 327.3Q228.22 305.43 195.1 309.4M189.8 366.4Q210.42 339.57 195.1 309.4M141.2 313Q176.59 334.06 213.6 316M180.5 325Q194.2 350.88 222.9 356.7M172.8 379.4Q190.2 354.12 180.5 325M253.4 327.3Q216.55 350.44 209.1 393.3M256.3 368.5Q244.74 343.49 218.6 334.8M159.7 320.4Q164.53 342.94 187.5 344.9M121.3 379.4Q166.03 384.46 187.5 344.9M222.9 356.7Q235.22 354.69 237.4 342.4M205.9 352.3Q177.5 379.88 179.8 419.4M135.4 365.6Q162.3 386.71 189.8 366.4M189.8 366.4Q198.23 394.34 227.1 398.6M69.4 306.1Q78.98 316.07 92 311.4M69.4 306.1Q43 322.64 39.6 353.6M69.4 306.1Q48.93 346.34 78.9 380.1M92 311.4Q108.1 320.48 122.1 308.4M59 324.5Q61.11 339.87 75.6 345.4M74.8 363.5Q77.99 339.51 59 324.5M77.3 324.1Q78.7 368.14 121.3 379.4M108 321.2Q95.29 321.99 92 334.3M108 321.2Q102.94 331.55 109.8 340.8M101.2 429.4Q137.79 377.39 108 321.2M60.1 414.6Q71.49 368.71 39.6 333.8M75.6 345.4Q86.87 344.39 92 334.3M94 355.2Q100.19 344.06 92 334.3M92 334.3Q115.25 330.87 122.1 308.4M109.8 340.8Q102.41 333.4 92 334.3M57.3 342.5Q60.57 357.57 74.8 363.5M71.1 399Q85.28 365.6 57.3 342.5M74.8 363.5Q87.44 366.38 94 355.2M94 355.2Q101.17 365.7 113.1 361.3M94 355.2Q61.12 350.45 40 376.1M55.7 364.1Q65.39 368.37 74.8 363.5M60.1 414.6Q72.66 388.06 55.7 364.1M58.5 383Q73.49 378.97 74.8 363.5M74.8 363.5Q82.22 375.31 96.1 374M122.1 308.4Q137.96 323.61 159.7 320.4M145.8 334Q141.56 314.16 122.1 308.4M141.2 313Q121.42 325.46 128.6 347.7M145.8 334Q157.34 331.89 159.7 320.4M159.7 320.4Q130.99 334.1 135.4 365.6M127.8 329Q115.75 330.24 109.8 340.8M127.8 329Q120.53 349.6 135.4 365.6M145.8 334Q125.87 327.17 109.8 340.8M145.8 334Q137.27 355.76 155 371M171.2 358Q173.23 347.57 167.1 338.9M135.4 365.6Q159.61 362.18 167.1 338.9M109.8 340.8Q117.04 350.15 128.6 347.7M109.8 340.8Q134.14 372.09 171.2 358M107 390.2Q127.55 373.91 128.6 347.7M151.6 352Q138.56 352.92 135.4 365.6M172.8 379.4Q169.27 360.23 151.6 352M171.2 358Q171.33 379.34 191.5 386.3M113.1 361.3Q83.02 370.04 71.1 399M113.1 361.3Q111.85 372.77 121.3 379.4M135.4 365.6Q143.83 373.27 155 371M135.4 365.6Q127.21 407.34 157.6 437.1M135.4 365.6Q156.47 417.87 212.7 414.1M78.9 380.1Q89.6 382.98 96.1 374M96.1 374Q114.44 392.64 139.8 386.3M48.6 398.9Q49.99 409.94 60.1 414.6M71.1 399Q81 404.67 90.4 398.2M157.6 437.1Q133.58 401.1 90.4 398.2M60.1 414.6Q109.77 470.25 182.7 454.6M71.1 429.2Q81.5 425.27 85.5 414.9M85.5 414.9Q88.04 427.9 101.2 429.4M101.8 451.1Q107.5 426.76 85.5 414.9M125.4 401.8Q113.38 400.32 107.5 410.9M107.5 410.9Q131.38 434.19 160.2 417.4M85.6 439.2Q80.7 430.79 71.1 429.2M101.2 429.4Q90.68 429.98 85.6 439.2M101.2 429.4Q146.5 436.51 174.5 400.2M140.6 425.2Q119.98 418.7 101.2 429.4M197.7 427.7Q148.92 398.37 101.2 429.4M121.3 379.4Q128.67 410.77 160.2 417.4M191.5 386.3Q184.63 376.14 172.8 379.4M139.8 386.3Q148.3 416.75 179.8 419.4M179.8 419.4Q176.42 399.78 158.1 392M160.2 417.4Q148.53 396.81 125.4 401.8M123.4 421.5Q130.92 412.31 125.4 401.8M209.1 393.3Q173.06 381.99 144.5 406.7M194.7 406.7Q169.6 390.69 144.5 406.7M176.4 437.2Q172.92 423.52 160.2 417.4M243.8 404.3Q197.6 382.75 160.2 417.4M176.4 437.2Q184.11 429.45 179.8 419.4M194.7 406.7Q183.23 408.33 179.8 419.4M123.4 421.5Q125.02 436.4 138.1 443.7M140.6 425.2Q163.14 455.7 200 446.8M118.1 441Q116.09 451.71 124.2 459M124.2 459Q136.75 456.44 138.1 443.7M164.4 457.3Q154.31 452.87 146 460.1M208.6 372.9Q218.57 397.16 243.8 404.3M227.1 398.6Q213.36 380.69 191.5 386.3M197.7 427.7Q216.59 435.7 231.1 421.2" fill="none" stroke="#f5a2c0" stroke-width="0.55" stroke-opacity="0.9"/>
<path d="M208.6 262Q200 280 186.5 291" fill="none" stroke="#f5a2c0" stroke-width="0.55"/><circle cx="95.6" cy="255.5" r="3.3" fill="#5cab60"/><circle cx="79.7" cy="267.3" r="4.1" fill="#bfe463"/><circle cx="110.1" cy="268.9" r="3.6" fill="#bfe463"/><circle cx="66.2" cy="280.4" r="3.3" fill="#aed9f7"/><circle cx="94.5" cy="280" r="3" fill="#aed9f7"/><circle cx="54.4" cy="295.1" r="2.9" fill="#aed9f7"/><circle cx="81.9" cy="293.1" r="3" fill="#aed9f7"/><circle cx="105.2" cy="296.8" r="4.9" fill="#f26a98"/><circle cx="154.8" cy="242.4" r="3.3" fill="#64e0b9"/><circle cx="132.2" cy="244.4" r="3.6" fill="#5cab60"/><circle cx="114.4" cy="249.6" r="3.6" fill="#aed9f7"/><circle cx="174" cy="246.8" r="3.3" fill="#64e0b9"/><circle cx="145" cy="257.8" r="2.9" fill="#f26a98"/><circle cx="164.2" cy="264.3" r="4.1" fill="#5cab60"/><circle cx="129.5" cy="268.6" r="3.3" fill="#64e0b9"/><circle cx="183.5" cy="270.8" r="2" fill="#d4f5ee"/><circle cx="147.5" cy="277.6" r="2.9" fill="#64e0b9"/><circle cx="167.6" cy="283.3" r="4.1" fill="#f26a98"/><circle cx="120" cy="286.6" r="4.1" fill="#f26a98"/><circle cx="185.4" cy="292.4" r="5.4" fill="#f26a98"/><circle cx="136.3" cy="293.1" r="3.3" fill="#64e0b9"/><circle cx="155.4" cy="298.7" r="4.1" fill="#f26a98"/><circle cx="191.1" cy="253.4" r="3.3" fill="#bfe463"/><circle cx="221.9" cy="275.5" r="3.3" fill="#5b75ef"/><circle cx="200" cy="279.2" r="3.6" fill="#64e0b9"/><circle cx="236.5" cy="287.5" r="3.3" fill="#f7ef80"/><circle cx="210.6" cy="294" r="3.6" fill="#5b75ef"/><circle cx="227" cy="302" r="3.3" fill="#5cab60"/><circle cx="246.8" cy="307.3" r="3.3" fill="#5b75ef"/><circle cx="195.1" cy="309.4" r="3.6" fill="#5b75ef"/><circle cx="213.6" cy="316" r="4.1" fill="#f7ef80"/><circle cx="234.4" cy="322" r="3.3" fill="#f7ef80"/><circle cx="180.5" cy="325" r="3.6" fill="#f26a98"/><circle cx="199.6" cy="330.2" r="3.3" fill="#f7ef80"/><circle cx="253.4" cy="327.3" r="3.3" fill="#5cab60"/><circle cx="218.6" cy="334.8" r="4.1" fill="#5b75ef"/><circle cx="187.5" cy="344.9" r="2.5" fill="#d4f5ee"/><circle cx="237.4" cy="342.4" r="3.6" fill="#5b75ef"/><circle cx="255.7" cy="347.7" r="3.3" fill="#5b75ef"/><circle cx="205.9" cy="352.3" r="4.9" fill="#f7ef80"/><circle cx="222.9" cy="356.7" r="3.3" fill="#4cc6a8"/><circle cx="239.7" cy="364.2" r="3.3" fill="#4cc6a8"/><circle cx="189.8" cy="366.4" r="4.6" fill="#5b75ef"/><circle cx="256.3" cy="368.5" r="3.3" fill="#5b75ef"/><circle cx="69.4" cy="306.1" r="3.3" fill="#aed9f7"/><circle cx="44.5" cy="313.5" r="4.1" fill="#bfe463"/><circle cx="92" cy="311.4" r="6.2" fill="#aed9f7"/><circle cx="59" cy="324.5" r="2.5" fill="#aed9f7"/><circle cx="77.3" cy="324.1" r="3.6" fill="#f26a98"/><circle cx="108" cy="321.2" r="3.3" fill="#f26a98"/><circle cx="39.6" cy="333.8" r="2.9" fill="#aed9f7"/><circle cx="92" cy="334.3" r="3.3" fill="#aed9f7"/><circle cx="57.3" cy="342.5" r="2.5" fill="#aed9f7"/><circle cx="75.6" cy="345.4" r="4.9" fill="#aed9f7"/><circle cx="39.6" cy="353.6" r="3.3" fill="#aed9f7"/><circle cx="94" cy="355.2" r="4.9" fill="#aed9f7"/><circle cx="55.7" cy="364.1" r="2.9" fill="#f26a98"/><circle cx="74.8" cy="363.5" r="6.2" fill="#aed9f7"/><circle cx="122.1" cy="308.4" r="6.2" fill="#64e0b9"/><circle cx="141.2" cy="313" r="3.6" fill="#bfe463"/><circle cx="159.7" cy="320.4" r="3.6" fill="#64e0b9"/><circle cx="127.8" cy="329" r="4.6" fill="#64e0b9"/><circle cx="145.8" cy="334" r="3.6" fill="#64e0b9"/><circle cx="167.1" cy="338.9" r="3.3" fill="#64e0b9"/><circle cx="109.8" cy="340.8" r="4.1" fill="#aed9f7"/><circle cx="128.6" cy="347.7" r="6.2" fill="#aed9f7"/><circle cx="151.6" cy="352" r="4.9" fill="#f26a98"/><circle cx="171.2" cy="358" r="3.3" fill="#64e0b9"/><circle cx="113.1" cy="361.3" r="3.6" fill="#f26a98"/><circle cx="135.4" cy="365.6" r="4.1" fill="#64e0b9"/><circle cx="155" cy="371" r="4.1" fill="#5b75ef"/><circle cx="40" cy="376.1" r="3.3" fill="#aed9f7"/><circle cx="58.5" cy="383" r="3.3" fill="#aed9f7"/><circle cx="78.9" cy="380.1" r="3.6" fill="#aed9f7"/><circle cx="96.1" cy="374" r="3.3" fill="#aed9f7"/><circle cx="107" cy="390.2" r="6" fill="#5b75ef"/><circle cx="48.6" cy="398.9" r="3.6" fill="#f26a98"/><circle cx="71.1" cy="399" r="3.3" fill="#f26a98"/><circle cx="90.4" cy="398.2" r="4.6" fill="#f26a98"/><circle cx="60.1" cy="414.6" r="2.9" fill="#64e0b9"/><circle cx="85.5" cy="414.9" r="2.9" fill="#f26a98"/><circle cx="107.5" cy="410.9" r="4.4" fill="#64e0b9"/><circle cx="71.1" cy="429.2" r="2.9" fill="#f26a98"/><circle cx="101.2" cy="429.4" r="3.3" fill="#f26a98"/><circle cx="85.6" cy="439.2" r="3.3" fill="#f26a98"/><circle cx="121.3" cy="379.4" r="3.3" fill="#f26a98"/><circle cx="172.8" cy="379.4" r="3.3" fill="#f26a98"/><circle cx="139.8" cy="386.3" r="2.5" fill="#aed9f7"/><circle cx="158.1" cy="392" r="3.3" fill="#bfe463"/><circle cx="174.5" cy="400.2" r="3.6" fill="#5b75ef"/><circle cx="125.4" cy="401.8" r="3.6" fill="#64e0b9"/><circle cx="144.5" cy="406.7" r="4.1" fill="#64e0b9"/><circle cx="160.2" cy="417.4" r="4.1" fill="#64e0b9"/><circle cx="179.8" cy="419.4" r="3.3" fill="#bfe463"/><circle cx="123.4" cy="421.5" r="4.6" fill="#64e0b9"/><circle cx="140.6" cy="425.2" r="3.3" fill="#f26a98"/><circle cx="157.6" cy="437.1" r="3.3" fill="#f26a98"/><circle cx="176.4" cy="437.2" r="3.3" fill="#bfe463"/><circle cx="118.1" cy="441" r="2.9" fill="#e5f2aa"/><circle cx="138.1" cy="443.7" r="4.1" fill="#64e0b9"/><circle cx="101.8" cy="451.1" r="2.5" fill="#e5f2aa"/><circle cx="124.2" cy="459" r="2.5" fill="#e5f2aa"/><circle cx="146" cy="460.1" r="2.9" fill="#e5f2aa"/><circle cx="164.4" cy="457.3" r="3.3" fill="#60b3c9"/><circle cx="208.6" cy="372.9" r="3.3" fill="#f7ef80"/><circle cx="226.6" cy="379.4" r="3.3" fill="#5b75ef"/><circle cx="191.5" cy="386.3" r="4.1" fill="#bfe463"/><circle cx="247.1" cy="386" r="2.9" fill="#4cc6a8"/><circle cx="209.1" cy="393.3" r="3.3" fill="#64e0b9"/><circle cx="227.1" cy="398.6" r="3.6" fill="#5b75ef"/><circle cx="243.8" cy="404.3" r="2.9" fill="#f7ef80"/><circle cx="194.7" cy="406.7" r="2.5" fill="#d4f5ee"/><circle cx="212.7" cy="414.1" r="3.3" fill="#f7ef80"/><circle cx="231.1" cy="421.2" r="3.3" fill="#f4886c"/><circle cx="197.7" cy="427.7" r="3.3" fill="#f4886c"/><circle cx="216.6" cy="435.4" r="3" fill="#60b3c9"/><circle cx="200" cy="446.8" r="3" fill="#60b3c9"/><circle cx="182.7" cy="454.6" r="2.5" fill="#f7ef80"/>
<text class="n" x="95.6" y="256.94" font-size="4.1" fill="#1a1a1a" text-anchor="middle">237</text><text class="n" x="79.7" y="268.74" font-size="4.1" fill="#1a1a1a" text-anchor="middle">4</text><text class="n" x="110.1" y="270.33" font-size="4.1" fill="#1a1a1a" text-anchor="middle">249</text><text class="n" x="66.2" y="281.83" font-size="4.1" fill="#1a1a1a" text-anchor="middle">231</text><text class="l" x="92.5" y="281.45" font-size="4.15" fill="#111" text-anchor="middle">Bryobacter</text><text class="n" x="54.4" y="296.54" font-size="4.1" fill="#1a1a1a" text-anchor="middle">2776</text><text class="l" x="81.9" y="294.55" font-size="4.15" fill="#111" text-anchor="middle">Syntrophorhabdus</text><text class="n" x="105.2" y="298.24" font-size="4.1" fill="#1a1a1a" text-anchor="middle">290</text><text class="l" x="114.4" y="251.05" font-size="4.15" fill="#111" text-anchor="middle">Sphingomonas</text><text class="l" x="174" y="248.25" font-size="4.15" fill="#111" text-anchor="middle">Turicibacter</text><text class="n" x="145" y="259.24" font-size="4.1" fill="#1a1a1a" text-anchor="middle">3490</text><text class="n" x="164.2" y="265.74" font-size="4.1" fill="#1a1a1a" text-anchor="middle">3303</text><text class="n" x="129.5" y="270.04" font-size="4.1" fill="#1a1a1a" text-anchor="middle">75</text><text class="n" x="183.5" y="272.24" font-size="4.1" fill="#1a1a1a" text-anchor="middle">3368</text><text class="n" x="147.5" y="279.04" font-size="4.1" fill="#1a1a1a" text-anchor="middle">994</text><text class="l" x="167.6" y="284.75" font-size="4.15" fill="#111" text-anchor="middle">Methylocystis</text><text class="n" x="120" y="288.04" font-size="4.1" fill="#1a1a1a" text-anchor="middle">850</text><text class="n" x="185.4" y="293.83" font-size="4.1" fill="#1a1a1a" text-anchor="middle">101</text><text class="n" x="136.3" y="294.54" font-size="4.1" fill="#1a1a1a" text-anchor="middle">15</text><text class="n" x="155.4" y="300.13" font-size="4.1" fill="#1a1a1a" text-anchor="middle">2773</text><text class="n" x="191.1" y="254.84" font-size="4.1" fill="#1a1a1a" text-anchor="middle">84</text><text class="n" x="221.9" y="276.94" font-size="4.1" fill="#1a1a1a" text-anchor="middle">69</text><text class="n" x="200" y="280.63" font-size="4.1" fill="#1a1a1a" text-anchor="middle">3513</text><text class="n" x="236.5" y="288.94" font-size="4.1" fill="#1a1a1a" text-anchor="middle">3279</text><text class="n" x="210.6" y="295.44" font-size="4.1" fill="#1a1a1a" text-anchor="middle">205</text><text class="n" x="227" y="303.44" font-size="4.1" fill="#1a1a1a" text-anchor="middle">39</text><text class="l" x="246.8" y="308.75" font-size="4.15" fill="#111" text-anchor="middle">Bryobacter</text><text class="l" x="195.1" y="310.85" font-size="4.15" fill="#111" text-anchor="middle">Syntrophobacter</text><text class="l" x="213.6" y="317.45" font-size="4.15" fill="#111" text-anchor="middle">Gemmatimonas</text><text class="n" x="234.4" y="323.44" font-size="4.1" fill="#1a1a1a" text-anchor="middle">6</text><text class="n" x="180.5" y="326.44" font-size="4.1" fill="#1a1a1a" text-anchor="middle">6565</text><text class="n" x="199.6" y="331.63" font-size="4.1" fill="#1a1a1a" text-anchor="middle">1846</text><text class="n" x="253.4" y="328.74" font-size="4.1" fill="#1a1a1a" text-anchor="middle">1452</text><text class="n" x="218.6" y="336.24" font-size="4.1" fill="#1a1a1a" text-anchor="middle">323</text><text class="n" x="187.5" y="346.33" font-size="4.1" fill="#1a1a1a" text-anchor="middle">1896</text><text class="l" x="237.4" y="343.85" font-size="4.15" fill="#111" text-anchor="middle">Nitrospira</text><text class="n" x="255.7" y="349.13" font-size="4.1" fill="#1a1a1a" text-anchor="middle">172</text><text class="n" x="205.9" y="353.74" font-size="4.1" fill="#1a1a1a" text-anchor="middle">2777</text><text class="n" x="222.9" y="358.13" font-size="4.1" fill="#1a1a1a" text-anchor="middle">1979</text><text class="n" x="239.7" y="365.63" font-size="4.1" fill="#1a1a1a" text-anchor="middle">1903</text><text class="n" x="189.8" y="367.83" font-size="4.1" fill="#1a1a1a" text-anchor="middle">180</text><text class="l" x="256.3" y="369.95" font-size="4.15" fill="#111" text-anchor="middle">Bryobacter</text><text class="n" x="69.4" y="307.54" font-size="4.1" fill="#1a1a1a" text-anchor="middle">310</text><text class="n" x="44.5" y="314.94" font-size="4.1" fill="#1a1a1a" text-anchor="middle">18</text><text class="l" x="92" y="312.85" font-size="4.15" fill="#111" text-anchor="middle">IMCC26256</text><text class="l" x="59" y="325.95" font-size="4.15" fill="#111" text-anchor="middle">Desulfomonile</text><text class="n" x="77.3" y="325.54" font-size="4.1" fill="#1a1a1a" text-anchor="middle">1993</text><text class="n" x="108" y="322.63" font-size="4.1" fill="#1a1a1a" text-anchor="middle">126</text><text class="n" x="39.6" y="335.24" font-size="4.1" fill="#1a1a1a" text-anchor="middle">3433</text><text class="n" x="92" y="335.74" font-size="4.1" fill="#1a1a1a" text-anchor="middle">2679</text><text class="l" x="57.3" y="343.95" font-size="4.15" fill="#111" text-anchor="middle">Desulfomonile</text><text class="n" x="75.6" y="346.83" font-size="4.1" fill="#1a1a1a" text-anchor="middle">45</text><text class="n" x="39.6" y="355.04" font-size="4.1" fill="#1a1a1a" text-anchor="middle">500</text><text class="n" x="94" y="356.63" font-size="4.1" fill="#1a1a1a" text-anchor="middle">920</text><text class="l" x="55.7" y="365.55" font-size="4.15" fill="#111" text-anchor="middle">Bacillus</text><text class="n" x="74.8" y="364.94" font-size="4.1" fill="#1a1a1a" text-anchor="middle">25</text><text class="n" x="122.1" y="309.83" font-size="4.1" fill="#1a1a1a" text-anchor="middle">2019</text><text class="n" x="141.2" y="314.44" font-size="4.1" fill="#1a1a1a" text-anchor="middle">45</text><text class="n" x="159.7" y="321.83" font-size="4.1" fill="#1a1a1a" text-anchor="middle">3058</text><text class="n" x="127.8" y="330.44" font-size="4.1" fill="#1a1a1a" text-anchor="middle">2227</text><text class="n" x="145.8" y="335.44" font-size="4.1" fill="#1a1a1a" text-anchor="middle">761</text><text class="n" x="167.1" y="340.33" font-size="4.1" fill="#1a1a1a" text-anchor="middle">3369</text><text class="n" x="109.8" y="342.24" font-size="4.1" fill="#1a1a1a" text-anchor="middle">319</text><text class="n" x="128.6" y="349.13" font-size="4.1" fill="#1a1a1a" text-anchor="middle">1571</text><text class="n" x="151.6" y="353.44" font-size="4.1" fill="#1a1a1a" text-anchor="middle">3102</text><text class="l" x="171.2" y="359.45" font-size="4.15" fill="#111" text-anchor="middle">Acidothermus</text><text class="n" x="113.1" y="362.74" font-size="4.1" fill="#1a1a1a" text-anchor="middle">69</text><text class="n" x="135.4" y="367.04" font-size="4.1" fill="#1a1a1a" text-anchor="middle">181</text><text class="n" x="155" y="372.44" font-size="4.1" fill="#1a1a1a" text-anchor="middle">3423</text><text class="n" x="40" y="377.54" font-size="4.1" fill="#1a1a1a" text-anchor="middle">1875</text><text class="n" x="58.5" y="384.44" font-size="4.1" fill="#1a1a1a" text-anchor="middle">475</text><text class="n" x="78.9" y="381.54" font-size="4.1" fill="#1a1a1a" text-anchor="middle">308</text><text class="n" x="96.1" y="375.44" font-size="4.1" fill="#1a1a1a" text-anchor="middle">1857</text><text class="n" x="107" y="391.63" font-size="4.1" fill="#1a1a1a" text-anchor="middle">3130</text><text class="n" x="48.6" y="400.33" font-size="4.1" fill="#1a1a1a" text-anchor="middle">94</text><text class="l" x="71.1" y="400.45" font-size="4.15" fill="#111" text-anchor="middle">RBG-16-58-14</text><text class="n" x="90.4" y="399.63" font-size="4.1" fill="#1a1a1a" text-anchor="middle">22</text><text class="l" x="60.1" y="416.05" font-size="4.15" fill="#111" text-anchor="middle">Gaiella</text><text class="n" x="85.5" y="416.33" font-size="4.1" fill="#1a1a1a" text-anchor="middle">1836</text><text class="l" x="107.8" y="412.45" font-size="4.15" fill="#111" text-anchor="middle">Desulfobacca</text><text class="n" x="71.1" y="430.63" font-size="4.1" fill="#1a1a1a" text-anchor="middle">5062</text><text class="n" x="101.2" y="430.83" font-size="4.1" fill="#1a1a1a" text-anchor="middle">5</text><text class="n" x="85.6" y="440.63" font-size="4.1" fill="#1a1a1a" text-anchor="middle">3845</text><text class="l" x="121.3" y="380.85" font-size="4.15" fill="#111" text-anchor="middle">Bacillus</text><text class="n" x="172.8" y="380.83" font-size="4.1" fill="#1a1a1a" text-anchor="middle">731</text><text class="l" x="139.8" y="387.75" font-size="4.15" fill="#111" text-anchor="middle">Clostridium_sensu_stricto_12</text><text class="l" x="158.1" y="393.45" font-size="4.15" fill="#111" text-anchor="middle">Flavisolibacter</text><text class="n" x="174.5" y="401.63" font-size="4.1" fill="#1a1a1a" text-anchor="middle">1807</text><text class="n" x="125.4" y="403.24" font-size="4.1" fill="#1a1a1a" text-anchor="middle">298</text><text class="n" x="144.5" y="408.13" font-size="4.1" fill="#1a1a1a" text-anchor="middle">1879</text><text class="n" x="160.2" y="418.83" font-size="4.1" fill="#1a1a1a" text-anchor="middle">35</text><text class="n" x="179.8" y="420.83" font-size="4.1" fill="#1a1a1a" text-anchor="middle">3684</text><text class="n" x="123.4" y="422.94" font-size="4.1" fill="#1a1a1a" text-anchor="middle">26</text><text class="n" x="140.6" y="426.63" font-size="4.1" fill="#1a1a1a" text-anchor="middle">233</text><text class="l" x="157.6" y="438.55" font-size="4.15" fill="#111" text-anchor="middle">Bryobacter</text><text class="n" x="176.4" y="438.63" font-size="4.1" fill="#1a1a1a" text-anchor="middle">2029</text><text class="n" x="118.1" y="442.44" font-size="4.1" fill="#1a1a1a" text-anchor="middle">400</text><text class="n" x="138.1" y="445.13" font-size="4.1" fill="#1a1a1a" text-anchor="middle">47</text><text class="l" x="101.8" y="452.55" font-size="4.15" fill="#111" text-anchor="middle">Clostridium_sensu_stricto_3</text><text class="l" x="124.2" y="460.45" font-size="4.15" fill="#111" text-anchor="middle">Nitrospira</text><text class="n" x="146" y="461.54" font-size="4.1" fill="#1a1a1a" text-anchor="middle">270</text><text class="n" x="164.4" y="458.74" font-size="4.1" fill="#1a1a1a" text-anchor="middle">7</text><text class="l" x="208.6" y="374.35" font-size="4.15" fill="#111" text-anchor="middle">Turicibacter</text><text class="n" x="226.6" y="380.83" font-size="4.1" fill="#1a1a1a" text-anchor="middle">3937</text><text class="n" x="191.5" y="387.74" font-size="4.1" fill="#1a1a1a" text-anchor="middle">1152</text><text class="n" x="247.1" y="387.44" font-size="4.1" fill="#1a1a1a" text-anchor="middle">3656</text><text class="l" x="209.1" y="394.75" font-size="4.15" fill="#111" text-anchor="middle">Mycobacterium</text><text class="l" x="227.1" y="400.05" font-size="4.15" fill="#111" text-anchor="middle">Defluviicoccus</text><text class="n" x="243.8" y="405.74" font-size="4.1" fill="#1a1a1a" text-anchor="middle">1296</text><text class="l" x="198.8" y="408.15" font-size="4.15" fill="#111" text-anchor="middle">Clostridium_sensu_stricto_1</text><text class="n" x="212.7" y="415.54" font-size="4.1" fill="#1a1a1a" text-anchor="middle">8</text><text class="l" x="231.1" y="422.65" font-size="4.15" fill="#111" text-anchor="middle">Nocardioides</text><text class="l" x="197.7" y="429.15" font-size="4.15" fill="#111" text-anchor="middle">Sphingomonas</text><text class="n" x="216.6" y="436.83" font-size="4.1" fill="#1a1a1a" text-anchor="middle">28</text><text class="n" x="200" y="448.24" font-size="4.1" fill="#1a1a1a" text-anchor="middle">192</text><text class="l" x="182.7" y="456.05" font-size="4.15" fill="#111" text-anchor="middle">P3OB-42</text>
<text class="l" x="155.3" y="238.6" font-size="4.1" fill="#111" text-anchor="middle">Streptosporangium</text><text class="l" x="128.9" y="244.3" font-size="4.1" fill="#111" text-anchor="middle">CL500-29_marine_group</text><text class="l" x="208.6" y="262.5" font-size="4.1" fill="#111" text-anchor="middle">184</text><text class="l" x="173.6" y="306.8" font-size="4.1" fill="#111" text-anchor="middle">3902</text>
<text x="40.4" y="228.5" font-size="14" font-weight="bold" fill="#111" text-anchor="middle">c</text>
</g>
<g font-family="'Liberation Serif','Times New Roman',serif" class="tb">
<text x="260.2" y="14.1" font-size="13.5" fill="#111" text-anchor="middle">b</text>
<line x1="362.7" y1="33" x2="362.7" y2="163.2" stroke="#ececec" stroke-width="0.5"/><line x1="398.8" y1="33" x2="398.8" y2="163.2" stroke="#ececec" stroke-width="0.5"/><line x1="434.9" y1="33" x2="434.9" y2="163.2" stroke="#ececec" stroke-width="0.5"/><line x1="471" y1="33" x2="471" y2="163.2" stroke="#ececec" stroke-width="0.5"/><line x1="507.1" y1="33" x2="507.1" y2="163.2" stroke="#ececec" stroke-width="0.5"/><rect x="326.6" y="34.9" width="21.66" height="4.4" fill="#62e1b2"/><rect x="326.6" y="39.6" width="36.1" height="4.2" fill="#d97f9f"/><line x1="324.6" y1="39.4" x2="326.6" y2="39.4" stroke="#444" stroke-width="0.5"/><text x="322.2" y="41.1" font-size="5.1" fill="#222" text-anchor="end">Firmicutes</text>
<rect x="326.6" y="46.74" width="68.59" height="4.4" fill="#62e1b2"/><rect x="326.6" y="51.4" width="90.25" height="4.2" fill="#d97f9f"/><line x1="324.6" y1="51.24" x2="326.6" y2="51.24" stroke="#444" stroke-width="0.5"/><text x="322.2" y="52.94" font-size="5.1" fill="#222" text-anchor="end">Proteobacteria</text>
<rect x="326.6" y="58.58" width="137.18" height="4.4" fill="#62e1b2"/><rect x="326.6" y="63.2" width="205.77" height="4.2" fill="#d97f9f"/><line x1="324.6" y1="63.08" x2="326.6" y2="63.08" stroke="#444" stroke-width="0.5"/><text x="322.2" y="64.78" font-size="5.1" fill="#222" text-anchor="end">Chloroflexi</text>
<rect x="326.6" y="70.42" width="75.81" height="4.4" fill="#62e1b2"/><rect x="326.6" y="75" width="57.76" height="4.2" fill="#d97f9f"/><line x1="324.6" y1="74.92" x2="326.6" y2="74.92" stroke="#444" stroke-width="0.5"/><text x="322.2" y="76.62" font-size="5.1" fill="#222" text-anchor="end">Actinobacteriota</text>
<rect x="326.6" y="82.26" width="28.88" height="4.4" fill="#62e1b2"/><rect x="326.6" y="86.8" width="28.88" height="4.2" fill="#d97f9f"/><line x1="324.6" y1="86.76" x2="326.6" y2="86.76" stroke="#444" stroke-width="0.5"/><text x="322.2" y="88.46" font-size="5.1" fill="#222" text-anchor="end">Desulfobacterota</text>
<rect x="326.6" y="94.1" width="3.61" height="4.4" fill="#62e1b2"/><rect x="326.6" y="98.6" width="7.22" height="4.2" fill="#d97f9f"/><line x1="324.6" y1="98.6" x2="326.6" y2="98.6" stroke="#444" stroke-width="0.5"/><text x="322.2" y="100.3" font-size="5.1" fill="#222" text-anchor="end">MBNT15</text>
<rect x="326.6" y="105.94" width="18.05" height="4.4" fill="#62e1b2"/><rect x="326.6" y="110.4" width="10.83" height="4.2" fill="#d97f9f"/><line x1="324.6" y1="110.44" x2="326.6" y2="110.44" stroke="#444" stroke-width="0.5"/><text x="322.2" y="112.14" font-size="5.1" fill="#222" text-anchor="end">Nitrospirota</text>
<rect x="326.6" y="117.78" width="54.15" height="4.4" fill="#62e1b2"/><rect x="326.6" y="122.2" width="57.76" height="4.2" fill="#d97f9f"/><line x1="324.6" y1="122.28" x2="326.6" y2="122.28" stroke="#444" stroke-width="0.5"/><text x="322.2" y="123.98" font-size="5.1" fill="#222" text-anchor="end">Acidobacteriota</text>
<rect x="326.6" y="129.62" width="10.83" height="4.4" fill="#62e1b2"/><rect x="326.6" y="134" width="14.44" height="4.2" fill="#d97f9f"/><line x1="324.6" y1="134.12" x2="326.6" y2="134.12" stroke="#444" stroke-width="0.5"/><text x="322.2" y="135.82" font-size="5.1" fill="#222" text-anchor="end">Myxococcota</text>
<rect x="326.6" y="141.46" width="10.83" height="4.4" fill="#62e1b2"/><rect x="326.6" y="145.8" width="36.1" height="4.2" fill="#d97f9f"/><line x1="324.6" y1="145.96" x2="326.6" y2="145.96" stroke="#444" stroke-width="0.5"/><text x="322.2" y="147.66" font-size="5.1" fill="#222" text-anchor="end">Bacteroidota</text>
<rect x="326.6" y="153.3" width="3.61" height="4.4" fill="#62e1b2"/><rect x="326.6" y="157.6" width="3.61" height="4.2" fill="#d97f9f"/><line x1="324.6" y1="157.8" x2="326.6" y2="157.8" stroke="#444" stroke-width="0.5"/><text x="322.2" y="159.5" font-size="5.1" fill="#222" text-anchor="end">Gemmatimonadota</text>
<line x1="326.5" y1="33" x2="326.5" y2="163.4" stroke="#555" stroke-width="0.6"/><line x1="326.2" y1="163.2" x2="543.5" y2="163.2" stroke="#555" stroke-width="0.6"/>
<line x1="326.6" y1="163.2" x2="326.6" y2="165" stroke="#555" stroke-width="0.5"/><text x="326.6" y="170" font-size="4.3" fill="#222" text-anchor="middle">0</text><line x1="362.7" y1="163.2" x2="362.7" y2="165" stroke="#555" stroke-width="0.5"/><text x="362.7" y="170" font-size="4.3" fill="#222" text-anchor="middle">10</text><line x1="398.8" y1="163.2" x2="398.8" y2="165" stroke="#555" stroke-width="0.5"/><text x="398.8" y="170" font-size="4.3" fill="#222" text-anchor="middle">20</text><line x1="434.9" y1="163.2" x2="434.9" y2="165" stroke="#555" stroke-width="0.5"/><text x="434.9" y="170" font-size="4.3" fill="#222" text-anchor="middle">30</text><line x1="471" y1="163.2" x2="471" y2="165" stroke="#555" stroke-width="0.5"/><text x="471" y="170" font-size="4.3" fill="#222" text-anchor="middle">40</text><line x1="507.1" y1="163.2" x2="507.1" y2="165" stroke="#555" stroke-width="0.5"/><text x="507.1" y="170" font-size="4.3" fill="#222" text-anchor="middle">50</text>
<text x="437.3" y="177.3" font-size="7" fill="#111" text-anchor="middle">Abundance</text>
<text transform="translate(278.4,97) rotate(-90)" font-size="7.5" fill="#111" text-anchor="middle">Phylum</text>
<rect x="529.9" y="36.8" width="4.3" height="2.8" fill="#62e1b2"/><rect x="529.9" y="43.3" width="4.3" height="2.8" fill="#d97f9f"/><text x="538" y="39.9" font-size="4" fill="#666" font-family="'Liberation Sans',Arial,sans-serif">L</text><text x="538" y="46.4" font-size="4" fill="#666" font-family="'Liberation Sans',Arial,sans-serif">H</text>
</g>
<g font-family="'Liberation Sans',Arial,sans-serif" class="td">
<text x="258.2" y="228.6" font-size="13.5" fill="#111" text-anchor="middle" font-family="'Liberation Serif','Times New Roman',serif">d</text>
<line x1="392.6" y1="214" x2="392.6" y2="460.6" stroke="#555" stroke-width="0.8"/><line x1="392.2" y1="460.2" x2="482" y2="460.2" stroke="#555" stroke-width="0.8"/>
<line x1="391.2" y1="219.1" x2="392.6" y2="219.1" stroke="#333" stroke-width="0.5"/><text x="390.6" y="220.6" font-size="4.15" fill="#3a3a3a" text-anchor="end">Bryobacter</text>
<circle cx="405.5" cy="219.1" r="1" fill="#8aa6b8" stroke="#56646c" stroke-width="0.35"/><circle cx="426.8" cy="219.1" r="1" fill="#8aa6b8" stroke="#56646c" stroke-width="0.35"/><circle cx="448.1" cy="219.1" r="1" fill="#8aa6b8" stroke="#56646c" stroke-width="0.35"/><circle cx="469.4" cy="219.1" r="1" fill="#8aa6b8" stroke="#56646c" stroke-width="0.35"/>
<line x1="391.2" y1="227" x2="392.6" y2="227" stroke="#333" stroke-width="0.5"/><text x="390.6" y="228.5" font-size="4.15" fill="#3a3a3a" text-anchor="end">Candidatus_Solibacter</text>
<circle cx="405.5" cy="227" r="1" fill="#8aa6b8" stroke="#56646c" stroke-width="0.35"/><circle cx="426.8" cy="227" r="1" fill="#8aa6b8" stroke="#56646c" stroke-width="0.35"/><circle cx="448.1" cy="227" r="1" fill="#8aa6b8" stroke="#56646c" stroke-width="0.35"/><circle cx="469.4" cy="227" r="1" fill="#8aa6b8" stroke="#56646c" stroke-width="0.35"/>
<line x1="391.2" y1="234.89" x2="392.6" y2="234.89" stroke="#333" stroke-width="0.5"/><text x="390.6" y="236.39" font-size="4.15" fill="#3a3a3a" text-anchor="end">norank_f__norank_o__Vicinamibacterales</text>
<circle cx="405.5" cy="234.89" r="1.3" fill="#a9c4d2" stroke="#56646c" stroke-width="0.35"/><circle cx="426.8" cy="234.89" r="1.4" fill="#a9c4d2" stroke="#56646c" stroke-width="0.35"/><circle cx="448.1" cy="234.89" r="1.6" fill="#a9c4d2" stroke="#56646c" stroke-width="0.35"/><circle cx="469.4" cy="234.89" r="1.4" fill="#a9c4d2" stroke="#56646c" stroke-width="0.35"/>
<line x1="391.2" y1="242.79" x2="392.6" y2="242.79" stroke="#333" stroke-width="0.5"/><text x="390.6" y="244.29" font-size="4.15" fill="#3a3a3a" text-anchor="end">norank_f__norank_o__norank_c__Subgroup_18</text>
<circle cx="405.5" cy="242.79" r="1" fill="#8aa6b8" stroke="#56646c" stroke-width="0.35"/><circle cx="426.8" cy="242.79" r="1" fill="#8aa6b8" stroke="#56646c" stroke-width="0.35"/><circle cx="448.1" cy="242.79" r="1.2" fill="#8aa6b8" stroke="#56646c" stroke-width="0.35"/><circle cx="469.4" cy="242.79" r="1.1" fill="#8aa6b8" stroke="#56646c" stroke-width="0.35"/>
<line x1="391.2" y1="250.69" x2="392.6" y2="250.69" stroke="#333" stroke-width="0.5"/><text x="390.6" y="252.19" font-size="4.15" fill="#3a3a3a" text-anchor="end">Mycobacterium</text>
<circle cx="405.5" cy="250.69" r="1" fill="#1d4f82" stroke="#1d4f82" stroke-width="0.35"/><circle cx="426.8" cy="250.69" r="1" fill="#1d4f82" stroke="#1d4f82" stroke-width="0.35"/><circle cx="448.1" cy="250.69" r="0.9" fill="#1d4f82" stroke="#1d4f82" stroke-width="0.35"/><circle cx="469.4" cy="250.69" r="1" fill="#1d4f82" stroke="#1d4f82" stroke-width="0.35"/>
<line x1="391.2" y1="258.58" x2="392.6" y2="258.58" stroke="#333" stroke-width="0.5"/><text x="390.6" y="260.08" font-size="4.15" fill="#3a3a3a" text-anchor="end">norank_f__67-14</text>
<circle cx="405.5" cy="258.58" r="0.9" fill="#1d4f82" stroke="#1d4f82" stroke-width="0.35"/><circle cx="426.8" cy="258.58" r="1.1" fill="#1d4f82" stroke="#1d4f82" stroke-width="0.35"/><circle cx="448.1" cy="258.58" r="1" fill="#1d4f82" stroke="#1d4f82" stroke-width="0.35"/><circle cx="469.4" cy="258.58" r="0.9" fill="#1d4f82" stroke="#1d4f82" stroke-width="0.35"/>
<line x1="391.2" y1="266.48" x2="392.6" y2="266.48" stroke="#333" stroke-width="0.5"/><text x="390.6" y="267.98" font-size="4.15" fill="#3a3a3a" text-anchor="end">norank_f__norank_o__Gaiellales</text>
<circle cx="405.5" cy="266.48" r="0.9" fill="#1d4f82" stroke="#1d4f82" stroke-width="0.35"/><circle cx="426.8" cy="266.48" r="1" fill="#1d4f82" stroke="#1d4f82" stroke-width="0.35"/><circle cx="448.1" cy="266.48" r="1" fill="#1d4f82" stroke="#1d4f82" stroke-width="0.35"/><circle cx="469.4" cy="266.48" r="0.9" fill="#1d4f82" stroke="#1d4f82" stroke-width="0.35"/>
<line x1="391.2" y1="274.38" x2="392.6" y2="274.38" stroke="#333" stroke-width="0.5"/><text x="390.6" y="275.88" font-size="4.15" fill="#3a3a3a" text-anchor="end">unclassified_f__Intrasporangiaceae</text>
<circle cx="405.5" cy="274.38" r="1.1" fill="#1d4f82" stroke="#1d4f82" stroke-width="0.35"/><circle cx="426.8" cy="274.38" r="1.1" fill="#1d4f82" stroke="#1d4f82" stroke-width="0.35"/><circle cx="448.1" cy="274.38" r="1" fill="#1d4f82" stroke="#1d4f82" stroke-width="0.35"/><circle cx="469.4" cy="274.38" r="1" fill="#1d4f82" stroke="#1d4f82" stroke-width="0.35"/>
<line x1="391.2" y1="282.28" x2="392.6" y2="282.28" stroke="#333" stroke-width="0.5"/><text x="390.6" y="283.78" font-size="4.15" fill="#3a3a3a" text-anchor="end">unclassified_f__Micrococcaceae</text>
<circle cx="405.5" cy="282.28" r="1.5" fill="#1d4f82" stroke="#1d4f82" stroke-width="0.35"/><circle cx="426.8" cy="282.28" r="0.9" fill="#1d4f82" stroke="#1d4f82" stroke-width="0.35"/><circle cx="448.1" cy="282.28" r="0.9" fill="#1d4f82" stroke="#1d4f82" stroke-width="0.35"/><circle cx="469.4" cy="282.28" r="1.4" fill="#1d4f82" stroke="#1d4f82" stroke-width="0.35"/>
<line x1="391.2" y1="290.17" x2="392.6" y2="290.17" stroke="#333" stroke-width="0.5"/><text x="390.6" y="291.67" font-size="4.15" fill="#3a3a3a" text-anchor="end">norank_f__Bacteroidetes_vadinHA17</text>
<circle cx="405.5" cy="290.17" r="1.2" fill="#93a36a" stroke="#6f7a50" stroke-width="0.35"/><circle cx="426.8" cy="290.17" r="1.2" fill="#93a36a" stroke="#6f7a50" stroke-width="0.35"/><circle cx="448.1" cy="290.17" r="1.2" fill="#93a36a" stroke="#6f7a50" stroke-width="0.35"/><circle cx="469.4" cy="290.17" r="1.2" fill="#93a36a" stroke="#6f7a50" stroke-width="0.35"/>
<line x1="391.2" y1="298.07" x2="392.6" y2="298.07" stroke="#333" stroke-width="0.5"/><text x="390.6" y="299.57" font-size="4.15" fill="#3a3a3a" text-anchor="end">Anaerolinea</text>
<circle cx="405.5" cy="298.07" r="1" fill="#26722a" stroke="#26722a" stroke-width="0.35"/><circle cx="426.8" cy="298.07" r="1" fill="#26722a" stroke="#26722a" stroke-width="0.35"/><circle cx="448.1" cy="298.07" r="1" fill="#26722a" stroke="#26722a" stroke-width="0.35"/><circle cx="469.4" cy="298.07" r="0.9" fill="#26722a" stroke="#26722a" stroke-width="0.35"/>
<line x1="391.2" y1="305.97" x2="392.6" y2="305.97" stroke="#333" stroke-width="0.5"/><text x="390.6" y="307.47" font-size="4.15" fill="#3a3a3a" text-anchor="end">norank_f__Anaerolineaceae</text>
<circle cx="405.5" cy="305.97" r="1.5" fill="#26722a" stroke="#26722a" stroke-width="0.35"/><circle cx="426.8" cy="305.97" r="1.4" fill="#26722a" stroke="#26722a" stroke-width="0.35"/><circle cx="448.1" cy="305.97" r="1.3" fill="#26722a" stroke="#26722a" stroke-width="0.35"/><circle cx="469.4" cy="305.97" r="1.2" fill="#26722a" stroke="#26722a" stroke-width="0.35"/>
<line x1="391.2" y1="313.86" x2="392.6" y2="313.86" stroke="#333" stroke-width="0.5"/><text x="390.6" y="315.36" font-size="4.15" fill="#3a3a3a" text-anchor="end">norank_f__Roseiflexaceae</text>
<circle cx="405.5" cy="313.86" r="1" fill="#26722a" stroke="#26722a" stroke-width="0.35"/><circle cx="426.8" cy="313.86" r="1.2" fill="#26722a" stroke="#26722a" stroke-width="0.35"/><circle cx="448.1" cy="313.86" r="0.8" fill="#26722a" stroke="#26722a" stroke-width="0.35"/><circle cx="469.4" cy="313.86" r="0.9" fill="#26722a" stroke="#26722a" stroke-width="0.35"/>
<line x1="391.2" y1="321.76" x2="392.6" y2="321.76" stroke="#333" stroke-width="0.5"/><text x="390.6" y="323.26" font-size="4.15" fill="#3a3a3a" text-anchor="end">norank_f__norank_o__RBG-13-54-9</text>
<circle cx="405.5" cy="321.76" r="1" fill="#26722a" stroke="#26722a" stroke-width="0.35"/><circle cx="426.8" cy="321.76" r="1.1" fill="#26722a" stroke="#26722a" stroke-width="0.35"/><circle cx="448.1" cy="321.76" r="1.2" fill="#26722a" stroke="#26722a" stroke-width="0.35"/><circle cx="469.4" cy="321.76" r="1.2" fill="#26722a" stroke="#26722a" stroke-width="0.35"/>
<line x1="391.2" y1="329.66" x2="392.6" y2="329.66" stroke="#333" stroke-width="0.5"/><text x="390.6" y="331.16" font-size="4.15" fill="#3a3a3a" text-anchor="end">norank_f__norank_o__SBR1031</text>
<circle cx="405.5" cy="329.66" r="1.3" fill="#26722a" stroke="#26722a" stroke-width="0.35"/><circle cx="426.8" cy="329.66" r="1.4" fill="#26722a" stroke="#26722a" stroke-width="0.35"/><circle cx="448.1" cy="329.66" r="1.2" fill="#26722a" stroke="#26722a" stroke-width="0.35"/><circle cx="469.4" cy="329.66" r="1.1" fill="#26722a" stroke="#26722a" stroke-width="0.35"/>
<line x1="391.2" y1="337.56" x2="392.6" y2="337.56" stroke="#333" stroke-width="0.5"/><text x="390.6" y="339.06" font-size="4.15" fill="#3a3a3a" text-anchor="end">norank_f__norank_o__SJA-15</text>
<circle cx="405.5" cy="337.56" r="1.3" fill="#26722a" stroke="#26722a" stroke-width="0.35"/><circle cx="426.8" cy="337.56" r="1.2" fill="#26722a" stroke="#26722a" stroke-width="0.35"/><circle cx="448.1" cy="337.56" r="1.3" fill="#26722a" stroke="#26722a" stroke-width="0.35"/><circle cx="469.4" cy="337.56" r="1.5" fill="#26722a" stroke="#26722a" stroke-width="0.35"/>
<line x1="391.2" y1="345.45" x2="392.6" y2="345.45" stroke="#333" stroke-width="0.5"/><text x="390.6" y="346.95" font-size="4.15" fill="#3a3a3a" text-anchor="end">norank_f__norank_o__norank_c__KD4-96</text>
<circle cx="405.5" cy="345.45" r="1" fill="#26722a" stroke="#26722a" stroke-width="0.35"/><circle cx="426.8" cy="345.45" r="1.1" fill="#26722a" stroke="#26722a" stroke-width="0.35"/><circle cx="448.1" cy="345.45" r="1.2" fill="#26722a" stroke="#26722a" stroke-width="0.35"/><circle cx="469.4" cy="345.45" r="1.1" fill="#26722a" stroke="#26722a" stroke-width="0.35"/>
<line x1="391.2" y1="353.35" x2="392.6" y2="353.35" stroke="#333" stroke-width="0.5"/><text x="390.6" y="354.85" font-size="4.15" fill="#3a3a3a" text-anchor="end">unclassified_c__Anaerolineae</text>
<circle cx="405.5" cy="353.35" r="1" fill="#26722a" stroke="#26722a" stroke-width="0.35"/><circle cx="426.8" cy="353.35" r="1" fill="#26722a" stroke="#26722a" stroke-width="0.35"/><circle cx="448.1" cy="353.35" r="1" fill="#26722a" stroke="#26722a" stroke-width="0.35"/><circle cx="469.4" cy="353.35" r="1" fill="#26722a" stroke="#26722a" stroke-width="0.35"/>
<line x1="391.2" y1="361.25" x2="392.6" y2="361.25" stroke="#333" stroke-width="0.5"/><text x="390.6" y="362.75" font-size="4.15" fill="#3a3a3a" text-anchor="end">Desulfobacca</text>
<circle cx="405.5" cy="361.25" r="1.1" fill="#bb8190" stroke="#bb8190" stroke-width="0.35"/><circle cx="426.8" cy="361.25" r="1.1" fill="#bb8190" stroke="#bb8190" stroke-width="0.35"/><circle cx="448.1" cy="361.25" r="1.1" fill="#bb8190" stroke="#bb8190" stroke-width="0.35"/><circle cx="469.4" cy="361.25" r="1.1" fill="#bb8190" stroke="#bb8190" stroke-width="0.35"/>
<line x1="391.2" y1="369.14" x2="392.6" y2="369.14" stroke="#333" stroke-width="0.5"/><text x="390.6" y="370.64" font-size="4.15" fill="#3a3a3a" text-anchor="end">norank_f__Geobacteraceae</text>
<circle cx="405.5" cy="369.14" r="1.1" fill="#bb8190" stroke="#bb8190" stroke-width="0.35"/><circle cx="426.8" cy="369.14" r="1.1" fill="#bb8190" stroke="#bb8190" stroke-width="0.35"/><circle cx="448.1" cy="369.14" r="1.1" fill="#bb8190" stroke="#bb8190" stroke-width="0.35"/><circle cx="469.4" cy="369.14" r="1.1" fill="#bb8190" stroke="#bb8190" stroke-width="0.35"/>
<line x1="391.2" y1="377.04" x2="392.6" y2="377.04" stroke="#333" stroke-width="0.5"/><text x="390.6" y="378.54" font-size="4.15" fill="#3a3a3a" text-anchor="end">Bacillus</text>
<circle cx="405.5" cy="377.04" r="1" fill="#a3161c" stroke="#a3161c" stroke-width="0.35"/><circle cx="426.8" cy="377.04" r="1" fill="#a3161c" stroke="#a3161c" stroke-width="0.35"/><circle cx="448.1" cy="377.04" r="1" fill="#a3161c" stroke="#a3161c" stroke-width="0.35"/><circle cx="469.4" cy="377.04" r="1" fill="#a3161c" stroke="#a3161c" stroke-width="0.35"/>
<line x1="391.2" y1="384.94" x2="392.6" y2="384.94" stroke="#333" stroke-width="0.5"/><text x="390.6" y="386.44" font-size="4.15" fill="#3a3a3a" text-anchor="end">Clostridium_sensu_stricto_1</text>
<circle cx="405.5" cy="384.94" r="1" fill="#a3161c" stroke="#a3161c" stroke-width="0.35"/><circle cx="426.8" cy="384.94" r="1" fill="#a3161c" stroke="#a3161c" stroke-width="0.35"/><circle cx="448.1" cy="384.94" r="1.2" fill="#a3161c" stroke="#a3161c" stroke-width="0.35"/><circle cx="469.4" cy="384.94" r="1.1" fill="#a3161c" stroke="#a3161c" stroke-width="0.35"/>
<line x1="391.2" y1="392.83" x2="392.6" y2="392.83" stroke="#333" stroke-width="0.5"/><text x="390.6" y="394.33" font-size="4.15" fill="#3a3a3a" text-anchor="end">Exiguobacterium</text>
<circle cx="405.5" cy="392.83" r="1.7" fill="#a3161c" stroke="#a3161c" stroke-width="0.35"/><circle cx="426.8" cy="392.83" r="0.8" fill="#a3161c" stroke="#a3161c" stroke-width="0.35"/><circle cx="448.1" cy="392.83" r="0.6" fill="#a3161c" stroke="#a3161c" stroke-width="0.35"/><circle cx="469.4" cy="392.83" r="1.1" fill="#a3161c" stroke="#a3161c" stroke-width="0.35"/>
<line x1="391.2" y1="400.73" x2="392.6" y2="400.73" stroke="#333" stroke-width="0.5"/><text x="390.6" y="402.23" font-size="4.15" fill="#3a3a3a" text-anchor="end">Anaeromyxobacter</text>
<circle cx="405.5" cy="400.73" r="1" fill="#b78d58" stroke="#b78d58" stroke-width="0.35"/><circle cx="426.8" cy="400.73" r="1.1" fill="#b78d58" stroke="#b78d58" stroke-width="0.35"/><circle cx="448.1" cy="400.73" r="1" fill="#b78d58" stroke="#b78d58" stroke-width="0.35"/><circle cx="469.4" cy="400.73" r="1" fill="#b78d58" stroke="#b78d58" stroke-width="0.35"/>
<line x1="391.2" y1="408.63" x2="392.6" y2="408.63" stroke="#333" stroke-width="0.5"/><text x="390.6" y="410.13" font-size="4.15" fill="#3a3a3a" text-anchor="end">norank_f__norank_o__norank_c__Thermodesulfovibrionia</text>
<circle cx="405.5" cy="408.63" r="1" fill="#bb5c16" stroke="#bb5c16" stroke-width="0.35"/><circle cx="426.8" cy="408.63" r="1" fill="#bb5c16" stroke="#bb5c16" stroke-width="0.35"/><circle cx="448.1" cy="408.63" r="1" fill="#bb5c16" stroke="#bb5c16" stroke-width="0.35"/><circle cx="469.4" cy="408.63" r="1" fill="#bb5c16" stroke="#bb5c16" stroke-width="0.35"/>
<line x1="391.2" y1="416.52" x2="392.6" y2="416.52" stroke="#333" stroke-width="0.5"/><text x="390.6" y="418.02" font-size="4.15" fill="#3a3a3a" text-anchor="end">Defluviicoccus</text>
<circle cx="405.5" cy="416.52" r="0.95" fill="#2b1d62" stroke="#2b1d62" stroke-width="0.35"/><circle cx="426.8" cy="416.52" r="0.95" fill="#2b1d62" stroke="#2b1d62" stroke-width="0.35"/><circle cx="448.1" cy="416.52" r="0.9" fill="#2b1d62" stroke="#2b1d62" stroke-width="0.35"/><circle cx="469.4" cy="416.52" r="0.95" fill="#2b1d62" stroke="#2b1d62" stroke-width="0.35"/>
<line x1="391.2" y1="424.42" x2="392.6" y2="424.42" stroke="#333" stroke-width="0.5"/><text x="390.6" y="425.92" font-size="4.15" fill="#3a3a3a" text-anchor="end">Sphingomonas</text>
<circle cx="405.5" cy="424.42" r="0.95" fill="#2b1d62" stroke="#2b1d62" stroke-width="0.35"/><circle cx="426.8" cy="424.42" r="0.95" fill="#2b1d62" stroke="#2b1d62" stroke-width="0.35"/><circle cx="448.1" cy="424.42" r="0.9" fill="#2b1d62" stroke="#2b1d62" stroke-width="0.35"/><circle cx="469.4" cy="424.42" r="0.95" fill="#2b1d62" stroke="#2b1d62" stroke-width="0.35"/>
<line x1="391.2" y1="432.32" x2="392.6" y2="432.32" stroke="#333" stroke-width="0.5"/><text x="390.6" y="433.82" font-size="4.15" fill="#3a3a3a" text-anchor="end">norank_f__SC-I-84</text>
<circle cx="405.5" cy="432.32" r="0.95" fill="#2b1d62" stroke="#2b1d62" stroke-width="0.35"/><circle cx="426.8" cy="432.32" r="0.95" fill="#2b1d62" stroke="#2b1d62" stroke-width="0.35"/><circle cx="448.1" cy="432.32" r="0.95" fill="#2b1d62" stroke="#2b1d62" stroke-width="0.35"/><circle cx="469.4" cy="432.32" r="0.95" fill="#2b1d62" stroke="#2b1d62" stroke-width="0.35"/>
<line x1="391.2" y1="440.22" x2="392.6" y2="440.22" stroke="#333" stroke-width="0.5"/><text x="390.6" y="441.72" font-size="4.15" fill="#3a3a3a" text-anchor="end">norank_f__Xanthobacteraceae</text>
<circle cx="405.5" cy="440.22" r="0.95" fill="#2b1d62" stroke="#2b1d62" stroke-width="0.35"/><circle cx="426.8" cy="440.22" r="0.95" fill="#2b1d62" stroke="#2b1d62" stroke-width="0.35"/><circle cx="448.1" cy="440.22" r="0.95" fill="#2b1d62" stroke="#2b1d62" stroke-width="0.35"/><circle cx="469.4" cy="440.22" r="0.95" fill="#2b1d62" stroke="#2b1d62" stroke-width="0.35"/>
<line x1="391.2" y1="448.11" x2="392.6" y2="448.11" stroke="#333" stroke-width="0.5"/><text x="390.6" y="449.61" font-size="4.15" fill="#3a3a3a" text-anchor="end">unclassified_f__Xanthobacteraceae</text>
<circle cx="405.5" cy="448.11" r="0.95" fill="#2b1d62" stroke="#2b1d62" stroke-width="0.35"/><circle cx="426.8" cy="448.11" r="0.95" fill="#2b1d62" stroke="#2b1d62" stroke-width="0.35"/><circle cx="448.1" cy="448.11" r="0.95" fill="#2b1d62" stroke="#2b1d62" stroke-width="0.35"/><circle cx="469.4" cy="448.11" r="0.95" fill="#2b1d62" stroke="#2b1d62" stroke-width="0.35"/>
<line x1="391.2" y1="456.01" x2="392.6" y2="456.01" stroke="#333" stroke-width="0.5"/><text x="390.6" y="457.51" font-size="4.15" fill="#3a3a3a" text-anchor="end">Others</text>
<circle cx="405.5" cy="456.01" r="3.2" fill="#d2b4ea" stroke="#777" stroke-width="0.45"/><circle cx="426.8" cy="456.01" r="3.2" fill="#d2b4ea" stroke="#777" stroke-width="0.45"/><circle cx="448.1" cy="456.01" r="3.2" fill="#d2b4ea" stroke="#777" stroke-width="0.45"/><circle cx="469.4" cy="456.01" r="3.2" fill="#d2b4ea" stroke="#777" stroke-width="0.45"/>
<line x1="405.5" y1="460" x2="405.5" y2="461.4" stroke="#333" stroke-width="0.5"/><text x="405.5" y="465.6" font-size="4.15" fill="#4d4d4d" text-anchor="middle">HR</text><line x1="426.8" y1="460" x2="426.8" y2="461.4" stroke="#333" stroke-width="0.5"/><text x="426.8" y="465.6" font-size="4.15" fill="#4d4d4d" text-anchor="middle">HB</text><line x1="448.1" y1="460" x2="448.1" y2="461.4" stroke="#333" stroke-width="0.5"/><text x="448.1" y="465.6" font-size="4.15" fill="#4d4d4d" text-anchor="middle">LB</text><line x1="469.4" y1="460" x2="469.4" y2="461.4" stroke="#333" stroke-width="0.5"/><text x="469.4" y="465.6" font-size="4.15" fill="#4d4d4d" text-anchor="middle">LR</text>
<text x="438" y="472.2" font-size="5.1" fill="#111" text-anchor="middle">Group</text>
<text transform="translate(282.3,337.5) rotate(-90)" font-size="5.1" fill="#111" text-anchor="middle">Genus</text>
<text x="490.2" y="270.3" font-size="5.1" fill="#111">Phylum</text>
<circle cx="494" cy="277.2" r="0.95" fill="#7893a6"/><text x="500.3" y="278.7" font-size="4.2" fill="#222">Acidobacteriota</text>
<circle cx="494" cy="285.08" r="0.95" fill="#1d4f82"/><text x="500.3" y="286.58" font-size="4.2" fill="#222">Actinobacteriota</text>
<circle cx="494" cy="292.96" r="0.95" fill="#93a36a"/><text x="500.3" y="294.46" font-size="4.2" fill="#222">Bacteroidota</text>
<circle cx="494" cy="300.84" r="0.95" fill="#26722a"/><text x="500.3" y="302.34" font-size="4.2" fill="#222">Chloroflexi</text>
<circle cx="494" cy="308.72" r="0.95" fill="#bb8190"/><text x="500.3" y="310.22" font-size="4.2" fill="#222">Desulfobacterota</text>
<circle cx="494" cy="316.6" r="0.95" fill="#a3161c"/><text x="500.3" y="318.1" font-size="4.2" fill="#222">Firmicutes</text>
<circle cx="494" cy="324.48" r="0.95" fill="#b78d58"/><text x="500.3" y="325.98" font-size="4.2" fill="#222">Myxococcota</text>
<circle cx="494" cy="332.36" r="0.95" fill="#bb5c16"/><text x="500.3" y="333.86" font-size="4.2" fill="#222">Nitrospirota</text>
<circle cx="494" cy="340.24" r="0.95" fill="#a8a8a8"/><text x="500.3" y="341.74" font-size="4.2" fill="#222">Others</text>
<circle cx="494" cy="348.12" r="0.95" fill="#2b1d62"/><text x="500.3" y="349.62" font-size="4.2" fill="#222">Proteobacteria</text>
<text x="490" y="367.2" font-size="5.1" fill="#111">Relative abundance</text>
<circle cx="493.7" cy="373.3" r="1.8" fill="none" stroke="#444" stroke-width="0.45"/><text x="500.3" y="374.8" font-size="4.2" fill="#222">0.1</text>
<circle cx="493.7" cy="381.28" r="2.2" fill="none" stroke="#444" stroke-width="0.45"/><text x="500.3" y="382.78" font-size="4.2" fill="#222">0.2</text>
<circle cx="493.7" cy="389.26" r="2.5" fill="none" stroke="#444" stroke-width="0.45"/><text x="500.3" y="390.76" font-size="4.2" fill="#222">0.3</text>
<circle cx="493.7" cy="397.24" r="2.8" fill="none" stroke="#444" stroke-width="0.45"/><text x="500.3" y="398.74" font-size="4.2" fill="#222">0.4</text>
<circle cx="493.7" cy="405.22" r="3.1" fill="none" stroke="#444" stroke-width="0.45"/><text x="500.3" y="406.72" font-size="4.2" fill="#222">0.5</text>
</g>
</svg></body></html>
